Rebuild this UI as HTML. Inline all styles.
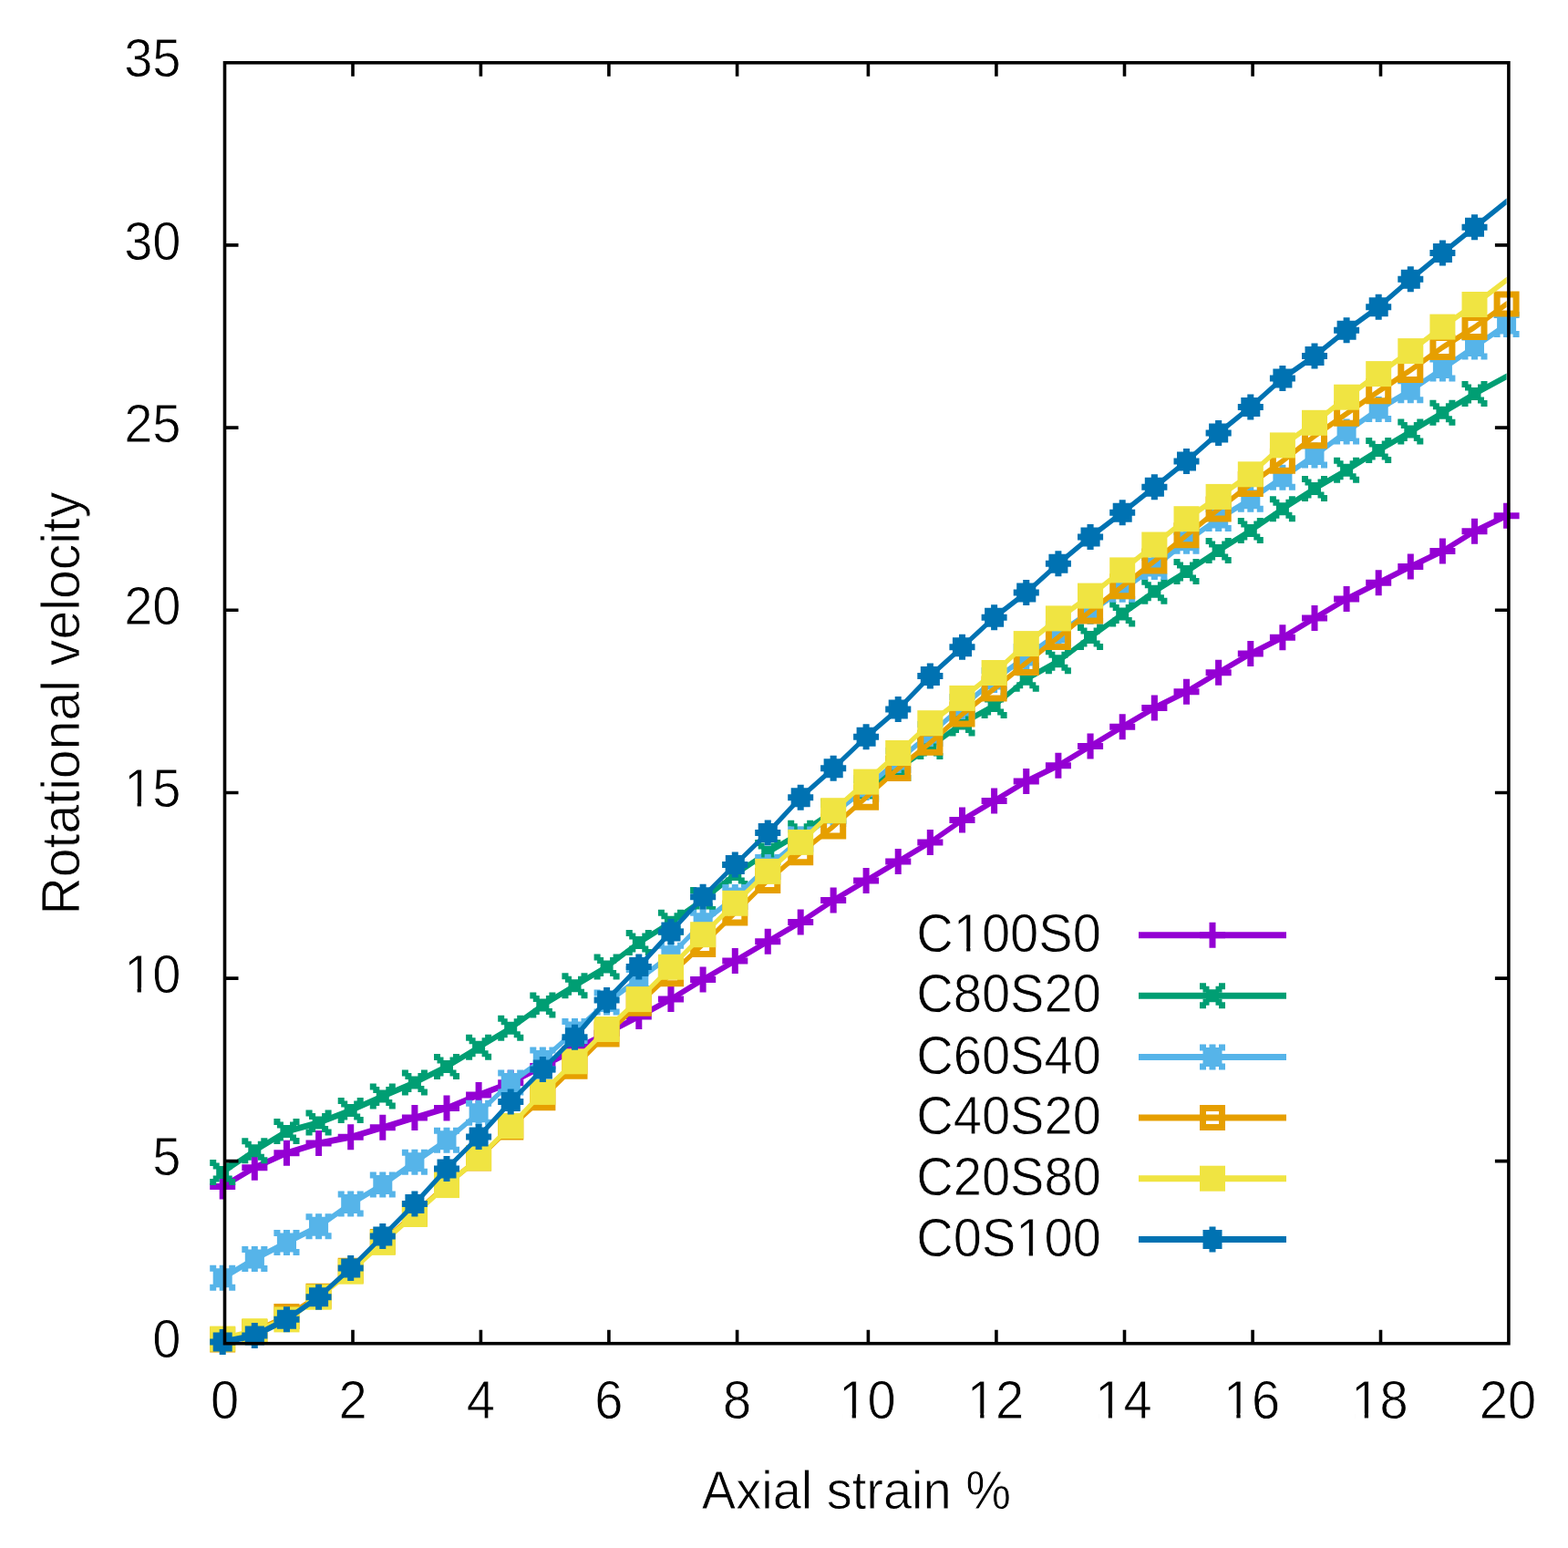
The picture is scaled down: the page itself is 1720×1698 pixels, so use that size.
<!DOCTYPE html><html><head><meta charset="utf-8"><title>Rotational velocity vs axial strain</title>
<style>html,body{margin:0;padding:0;background:#fff;}svg{display:block;}text{font-family:"Liberation Sans",Arial,sans-serif;fill:#000;stroke:#fff;stroke-width:0.8px;}</style></head><body>
<svg width="1720" height="1698" viewBox="0 0 1720 1698">
<rect width="1720" height="1698" fill="#fff"/>
<defs><clipPath id="pc"><rect x="246.5" y="68.8" width="1408.4" height="1404.9"/></clipPath></defs>
<g><path clip-path="url(#pc)" d="M244.2,1298.0L279.3,1277.2L279.3,1284.2L244.2,1305.0zM279.3,1277.2L314.4,1261.3L314.4,1268.3L279.3,1284.2zM314.4,1261.3L349.6,1250.6L349.6,1257.6L314.4,1268.3zM349.6,1250.6L384.7,1243.8L384.7,1250.8L349.6,1257.6zM384.7,1243.8L419.8,1233.2L419.8,1240.2L384.7,1250.8zM419.8,1233.2L454.9,1222.6L454.9,1229.6L419.8,1240.2zM454.9,1222.6L490.0,1212.0L490.0,1219.0L454.9,1229.6zM490.0,1212.0L525.1,1197.6L525.1,1204.6L490.0,1219.0zM525.1,1197.6L560.2,1184.2L560.2,1191.2L525.1,1204.6zM560.2,1184.2L595.4,1166.0L595.4,1173.0L560.2,1191.2zM595.4,1166.0L630.5,1147.8L630.5,1154.8L595.4,1173.0zM630.5,1147.8L665.6,1129.7L665.6,1136.7L630.5,1154.8zM665.6,1129.7L700.8,1111.5L700.8,1118.5L665.6,1136.7zM700.8,1111.5L736.0,1092.4L736.0,1099.4L700.8,1118.5zM736.0,1092.4L771.1,1071.0L771.1,1078.0L736.0,1099.4zM771.1,1071.0L806.3,1050.4L806.3,1057.4L771.1,1078.0zM806.3,1050.4L842.2,1029.2L842.2,1036.2L806.3,1057.4zM842.2,1029.2L878.2,1008.0L878.2,1015.0L842.2,1036.2zM878.2,1008.0L914.2,984.1L914.2,991.1L878.2,1015.0zM914.2,984.1L950.1,962.5L950.1,969.5L914.2,991.1zM950.1,962.5L985.2,941.5L985.2,948.5L950.1,969.5zM985.2,941.5L1020.4,920.4L1020.4,927.4L985.2,948.5zM1020.4,920.4L1055.5,896.1L1055.5,903.1L1020.4,927.4zM1055.5,896.1L1090.6,875.0L1090.6,882.0L1055.5,903.1zM1090.6,875.0L1125.8,853.5L1125.8,860.5L1090.6,882.0zM1125.8,853.5L1160.9,836.2L1160.9,843.2L1125.8,860.5zM1160.9,836.2L1196.0,815.0L1196.0,822.0L1160.9,843.2zM1196.0,815.0L1231.2,793.8L1231.2,800.8L1196.0,822.0zM1231.2,793.8L1266.4,772.9L1266.4,779.9L1231.2,800.8zM1266.4,772.9L1301.5,755.3L1301.5,762.3L1266.4,779.9zM1301.5,755.3L1336.6,734.3L1336.6,741.3L1301.5,762.3zM1336.6,734.3L1371.8,713.5L1371.8,720.5L1336.6,741.3zM1371.8,713.5L1406.9,695.8L1406.9,702.8L1371.8,720.5zM1406.9,695.8L1442.0,674.6L1442.0,681.6L1406.9,702.8zM1442.0,674.6L1477.1,653.4L1477.1,660.4L1442.0,681.6zM1477.1,653.4L1512.2,635.7L1512.2,642.7L1477.1,660.4zM1512.2,635.7L1547.3,618.1L1547.3,625.1L1512.2,642.7zM1547.3,618.1L1582.4,601.0L1582.4,608.0L1547.3,625.1zM1582.4,601.0L1617.5,579.2L1617.5,586.2L1582.4,608.0zM1617.5,579.2L1652.6,562.2L1652.6,569.2L1617.5,586.2z" fill="#9400d3"/>
<path d="M240.7,1287.5H247.7V1298.0H240.7zM230.2,1298.0H258.2V1305.0H230.2zM240.7,1305.0H247.7V1315.5H240.7z" fill="#9400d3"/>
<path d="M275.8,1266.7H282.8V1277.2H275.8zM265.3,1277.2H293.4V1284.2H265.3zM275.8,1284.2H282.8V1294.7H275.8z" fill="#9400d3"/>
<path d="M310.9,1250.8H318.0V1261.3H310.9zM300.4,1261.3H328.5V1268.3H300.4zM310.9,1268.3H318.0V1278.8H310.9z" fill="#9400d3"/>
<path d="M346.1,1240.1H353.1V1250.6H346.1zM335.5,1250.6H363.6V1257.6H335.5zM346.1,1257.6H353.1V1268.1H346.1z" fill="#9400d3"/>
<path d="M381.2,1233.3H388.2V1243.8H381.2zM370.7,1243.8H398.7V1250.8H370.7zM381.2,1250.8H388.2V1261.3H381.2z" fill="#9400d3"/>
<path d="M416.3,1222.7H423.3V1233.2H416.3zM405.8,1233.2H433.8V1240.2H405.8zM416.3,1240.2H423.3V1250.7H416.3z" fill="#9400d3"/>
<path d="M451.4,1212.1H458.4V1222.6H451.4zM440.9,1222.6H468.9V1229.6H440.9zM451.4,1229.6H458.4V1240.1H451.4z" fill="#9400d3"/>
<path d="M486.5,1201.5H493.5V1212.0H486.5zM476.0,1212.0H504.0V1219.0H476.0zM486.5,1219.0H493.5V1229.5H486.5z" fill="#9400d3"/>
<path d="M521.6,1187.1H528.6V1197.6H521.6zM511.1,1197.6H539.1V1204.6H511.1zM521.6,1204.6H528.6V1215.1H521.6z" fill="#9400d3"/>
<path d="M556.7,1173.7H563.7V1184.2H556.7zM546.2,1184.2H574.3V1191.2H546.2zM556.7,1191.2H563.7V1201.7H556.7z" fill="#9400d3"/>
<path d="M591.8,1155.5H598.9V1166.0H591.8zM581.3,1166.0H609.4V1173.0H581.3zM591.8,1173.0H598.9V1183.6H591.8z" fill="#9400d3"/>
<path d="M627.0,1137.3H634.0V1147.8H627.0zM616.4,1147.8H644.5V1154.9H616.4zM627.0,1154.9H634.0V1165.4H627.0z" fill="#9400d3"/>
<path d="M662.1,1119.1H669.1V1129.7H662.1zM651.6,1129.7H679.6V1136.7H651.6zM662.1,1136.7H669.1V1147.2H662.1z" fill="#9400d3"/>
<path d="M697.3,1101.0H704.3V1111.5H697.3zM686.7,1111.5H714.8V1118.5H686.7zM697.3,1118.5H704.3V1129.0H697.3z" fill="#9400d3"/>
<path d="M732.4,1081.9H739.5V1092.4H732.4zM721.9,1092.4H750.0V1099.4H721.9zM732.4,1099.4H739.5V1109.9H732.4z" fill="#9400d3"/>
<path d="M767.6,1060.5H774.6V1071.0H767.6zM757.1,1071.0H785.2V1078.0H757.1zM767.6,1078.0H774.6V1088.5H767.6z" fill="#9400d3"/>
<path d="M802.8,1039.9H809.8V1050.4H802.8zM792.3,1050.4H820.3V1057.4H792.3zM802.8,1057.4H809.8V1067.9H802.8z" fill="#9400d3"/>
<path d="M838.7,1018.7H845.8V1029.2H838.7zM828.2,1029.2H856.3V1036.2H828.2zM838.7,1036.2H845.8V1046.7H838.7z" fill="#9400d3"/>
<path d="M874.7,997.5H881.7V1008.0H874.7zM864.2,1008.0H892.2V1015.0H864.2zM874.7,1015.0H881.7V1025.5H874.7z" fill="#9400d3"/>
<path d="M910.6,973.6H917.7V984.1H910.6zM900.1,984.1H928.2V991.1H900.1zM910.6,991.1H917.7V1001.6H910.6z" fill="#9400d3"/>
<path d="M946.6,952.0H953.6V962.5H946.6zM936.1,962.5H964.1V969.5H936.1zM946.6,969.5H953.6V980.0H946.6z" fill="#9400d3"/>
<path d="M981.7,931.0H988.7V941.5H981.7zM971.2,941.5H999.3V948.5H971.2zM981.7,948.5H988.7V959.0H981.7z" fill="#9400d3"/>
<path d="M1016.8,909.9H1023.9V920.4H1016.8zM1006.3,920.4H1034.4V927.4H1006.3zM1016.8,927.4H1023.9V937.9H1016.8z" fill="#9400d3"/>
<path d="M1052.0,885.6H1059.0V896.1H1052.0zM1041.4,896.1H1069.5V903.1H1041.4zM1052.0,903.1H1059.0V913.6H1052.0z" fill="#9400d3"/>
<path d="M1087.1,864.5H1094.1V875.0H1087.1zM1076.6,875.0H1104.6V882.0H1076.6zM1087.1,882.0H1094.1V892.5H1087.1z" fill="#9400d3"/>
<path d="M1122.2,843.0H1129.3V853.5H1122.2zM1111.7,853.5H1139.8V860.5H1111.7zM1122.2,860.5H1129.3V871.0H1122.2z" fill="#9400d3"/>
<path d="M1157.4,825.7H1164.4V836.2H1157.4zM1146.9,836.2H1174.9V843.2H1146.9zM1157.4,843.2H1164.4V853.7H1157.4z" fill="#9400d3"/>
<path d="M1192.5,804.5H1199.6V815.0H1192.5zM1182.0,815.0H1210.1V822.0H1182.0zM1192.5,822.0H1199.6V832.5H1192.5z" fill="#9400d3"/>
<path d="M1227.7,783.3H1234.7V793.8H1227.7zM1217.2,793.8H1245.2V800.8H1217.2zM1227.7,800.8H1234.7V811.3H1227.7z" fill="#9400d3"/>
<path d="M1262.8,762.4H1269.9V772.9H1262.8zM1252.3,772.9H1280.4V779.9H1252.3zM1262.8,779.9H1269.9V790.4H1262.8z" fill="#9400d3"/>
<path d="M1298.0,744.8H1305.0V755.3H1298.0zM1287.5,755.3H1315.5V762.3H1287.5zM1298.0,762.3H1305.0V772.8H1298.0z" fill="#9400d3"/>
<path d="M1333.1,723.8H1340.2V734.3H1333.1zM1322.6,734.3H1350.7V741.3H1322.6zM1333.1,741.3H1340.2V751.8H1333.1z" fill="#9400d3"/>
<path d="M1368.3,703.0H1375.3V713.5H1368.3zM1357.8,713.5H1385.8V720.5H1357.8zM1368.3,720.5H1375.3V731.0H1368.3z" fill="#9400d3"/>
<path d="M1403.4,685.3H1410.4V695.8H1403.4zM1392.9,695.8H1420.9V702.8H1392.9zM1403.4,702.8H1410.4V713.3H1403.4z" fill="#9400d3"/>
<path d="M1438.5,664.1H1445.5V674.6H1438.5zM1428.0,674.6H1456.0V681.6H1428.0zM1438.5,681.6H1445.5V692.1H1438.5z" fill="#9400d3"/>
<path d="M1473.6,642.9H1480.6V653.4H1473.6zM1463.1,653.4H1491.1V660.4H1463.1zM1473.6,660.4H1480.6V670.9H1473.6z" fill="#9400d3"/>
<path d="M1508.7,625.2H1515.7V635.7H1508.7zM1498.2,635.7H1526.2V642.7H1498.2zM1508.7,642.7H1515.7V653.2H1508.7z" fill="#9400d3"/>
<path d="M1543.8,607.6H1550.8V618.1H1543.8zM1533.3,618.1H1561.3V625.1H1533.3zM1543.8,625.1H1550.8V635.6H1543.8z" fill="#9400d3"/>
<path d="M1578.9,590.5H1585.9V601.0H1578.9zM1568.4,601.0H1596.4V608.0H1568.4zM1578.9,608.0H1585.9V618.5H1578.9z" fill="#9400d3"/>
<path d="M1614.0,568.7H1621.0V579.2H1614.0zM1603.5,579.2H1631.5V586.2H1603.5zM1614.0,586.2H1621.0V596.7H1614.0z" fill="#9400d3"/>
<path d="M1649.1,551.7H1656.1V562.2H1649.1zM1638.6,562.2H1666.6V569.2H1638.6zM1649.1,569.2H1656.1V579.7H1649.1z" fill="#9400d3"/>
</g>
<g><path clip-path="url(#pc)" d="M244.2,1282.5L279.3,1258.7L279.3,1265.7L244.2,1289.5zM279.3,1258.7L314.4,1237.5L314.4,1244.5L279.3,1265.7zM314.4,1237.5L349.6,1227.9L349.6,1234.9L314.4,1244.5zM349.6,1227.9L384.7,1214.5L384.7,1221.5L349.6,1234.9zM384.7,1214.5L419.8,1199.0L419.8,1206.0L384.7,1221.5zM419.8,1199.0L454.9,1184.1L454.9,1191.1L419.8,1206.0zM454.9,1184.1L490.0,1166.5L490.0,1173.5L454.9,1191.1zM490.0,1166.5L525.1,1145.3L525.1,1152.3L490.0,1173.5zM525.1,1145.3L560.2,1124.2L560.2,1131.2L525.1,1152.3zM560.2,1124.2L595.4,1099.0L595.4,1106.0L560.2,1131.2zM595.4,1099.0L630.5,1077.8L630.5,1084.8L595.4,1106.0zM630.5,1077.8L665.6,1056.9L665.6,1063.9L630.5,1084.8zM665.6,1056.9L700.8,1030.5L700.8,1037.5L665.6,1063.9zM700.8,1030.5L736.0,1008.3L736.0,1015.3L700.8,1037.5zM736.0,1008.3L771.1,983.6L771.1,990.6L736.0,1015.3zM771.1,983.6L806.3,955.5L806.3,962.5L771.1,990.6zM806.3,955.5L842.2,931.5L842.2,938.5L806.3,962.5zM842.2,931.5L878.2,910.3L878.2,917.3L842.2,938.5zM878.2,910.3L914.2,886.5L914.2,893.5L878.2,917.3zM914.2,886.5L950.1,862.5L950.1,869.5L914.2,893.5zM950.1,862.5L985.2,839.5L985.2,846.5L950.1,869.5zM985.2,839.5L1020.4,815.6L1020.4,822.6L985.2,846.5zM1020.4,815.6L1055.5,790.1L1055.5,797.1L1020.4,822.6zM1055.5,790.1L1090.6,770.5L1090.6,777.5L1055.5,797.1zM1090.6,770.5L1125.8,741.3L1125.8,748.3L1090.6,777.5zM1125.8,741.3L1160.9,721.7L1160.9,728.7L1125.8,748.3zM1160.9,721.7L1196.0,695.5L1196.0,702.5L1160.9,728.7zM1196.0,695.5L1231.2,669.9L1231.2,676.9L1196.0,702.5zM1231.2,669.9L1266.4,645.2L1266.4,652.2L1231.2,676.9zM1266.4,645.2L1301.5,623.5L1301.5,630.5L1266.4,652.2zM1301.5,623.5L1336.6,600.5L1336.6,607.5L1301.5,630.5zM1336.6,600.5L1371.8,578.5L1371.8,585.5L1336.6,607.5zM1371.8,578.5L1406.9,554.8L1406.9,561.8L1371.8,585.5zM1406.9,554.8L1442.0,532.5L1442.0,539.5L1406.9,561.8zM1442.0,532.5L1477.1,512.3L1477.1,519.3L1442.0,539.5zM1477.1,512.3L1512.2,490.6L1512.2,497.6L1477.1,519.3zM1512.2,490.6L1547.3,469.9L1547.3,476.9L1512.2,497.6zM1547.3,469.9L1582.4,449.2L1582.4,456.2L1547.3,476.9zM1582.4,449.2L1617.5,428.4L1617.5,435.4L1582.4,456.2zM1617.5,428.4L1652.6,409.6L1652.6,416.6L1617.5,435.4z" fill="#009e73"/>
<path d="M230.2,1272.0H237.2V1275.5H230.2zM251.2,1272.0H258.2V1275.5H251.2zM230.2,1275.5H240.7V1279.0H230.2zM247.7,1275.5H258.2V1279.0H247.7zM233.7,1279.0H254.7V1282.5H233.7zM237.2,1282.5H251.2V1289.5H237.2zM233.7,1289.5H254.7V1293.0H233.7zM230.2,1293.0H240.7V1296.5H230.2zM247.7,1293.0H258.2V1296.5H247.7zM230.2,1296.5H237.2V1300.0H230.2zM251.2,1296.5H258.2V1300.0H251.2z" fill="#009e73"/>
<path d="M265.3,1248.2H272.3V1251.7H265.3zM286.3,1248.2H293.4V1251.7H286.3zM265.3,1251.7H275.8V1255.2H265.3zM282.8,1251.7H293.4V1255.2H282.8zM268.8,1255.2H289.9V1258.7H268.8zM272.3,1258.7H286.3V1265.7H272.3zM268.8,1265.7H289.9V1269.2H268.8zM265.3,1269.2H275.8V1272.7H265.3zM282.8,1269.2H293.4V1272.7H282.8zM265.3,1272.7H272.3V1276.2H265.3zM286.3,1272.7H293.4V1276.2H286.3z" fill="#009e73"/>
<path d="M300.4,1227.0H307.4V1230.5H300.4zM321.5,1227.0H328.5V1230.5H321.5zM300.4,1230.5H310.9V1234.0H300.4zM318.0,1230.5H328.5V1234.0H318.0zM303.9,1234.0H325.0V1237.5H303.9zM307.4,1237.5H321.5V1244.5H307.4zM303.9,1244.5H325.0V1248.0H303.9zM300.4,1248.0H310.9V1251.5H300.4zM318.0,1248.0H328.5V1251.5H318.0zM300.4,1251.5H307.4V1255.0H300.4zM321.5,1251.5H328.5V1255.0H321.5z" fill="#009e73"/>
<path d="M335.5,1217.4H342.6V1220.9H335.5zM356.6,1217.4H363.6V1220.9H356.6zM335.5,1220.9H346.1V1224.4H335.5zM353.1,1220.9H363.6V1224.4H353.1zM339.0,1224.4H360.1V1227.9H339.0zM342.6,1227.9H356.6V1234.9H342.6zM339.0,1234.9H360.1V1238.4H339.0zM335.5,1238.4H346.1V1241.9H335.5zM353.1,1238.4H363.6V1241.9H353.1zM335.5,1241.9H342.6V1245.4H335.5zM356.6,1241.9H363.6V1245.4H356.6z" fill="#009e73"/>
<path d="M370.7,1204.0H377.7V1207.5H370.7zM391.7,1204.0H398.7V1207.5H391.7zM370.7,1207.5H381.2V1211.0H370.7zM388.2,1207.5H398.7V1211.0H388.2zM374.2,1211.0H395.2V1214.5H374.2zM377.7,1214.5H391.7V1221.5H377.7zM374.2,1221.5H395.2V1225.0H374.2zM370.7,1225.0H381.2V1228.5H370.7zM388.2,1225.0H398.7V1228.5H388.2zM370.7,1228.5H377.7V1232.0H370.7zM391.7,1228.5H398.7V1232.0H391.7z" fill="#009e73"/>
<path d="M405.8,1188.5H412.8V1192.0H405.8zM426.8,1188.5H433.8V1192.0H426.8zM405.8,1192.0H416.3V1195.5H405.8zM423.3,1192.0H433.8V1195.5H423.3zM409.3,1195.5H430.3V1199.0H409.3zM412.8,1199.0H426.8V1206.0H412.8zM409.3,1206.0H430.3V1209.5H409.3zM405.8,1209.5H416.3V1213.0H405.8zM423.3,1209.5H433.8V1213.0H423.3zM405.8,1213.0H412.8V1216.5H405.8zM426.8,1213.0H433.8V1216.5H426.8z" fill="#009e73"/>
<path d="M440.9,1173.6H447.9V1177.1H440.9zM461.9,1173.6H468.9V1177.1H461.9zM440.9,1177.1H451.4V1180.6H440.9zM458.4,1177.1H468.9V1180.6H458.4zM444.4,1180.6H465.4V1184.1H444.4zM447.9,1184.1H461.9V1191.1H447.9zM444.4,1191.1H465.4V1194.6H444.4zM440.9,1194.6H451.4V1198.1H440.9zM458.4,1194.6H468.9V1198.1H458.4zM440.9,1198.1H447.9V1201.6H440.9zM461.9,1198.1H468.9V1201.6H461.9z" fill="#009e73"/>
<path d="M476.0,1156.0H483.0V1159.5H476.0zM497.0,1156.0H504.0V1159.5H497.0zM476.0,1159.5H486.5V1163.0H476.0zM493.5,1159.5H504.0V1163.0H493.5zM479.5,1163.0H500.5V1166.5H479.5zM483.0,1166.5H497.0V1173.5H483.0zM479.5,1173.5H500.5V1177.0H479.5zM476.0,1177.0H486.5V1180.5H476.0zM493.5,1177.0H504.0V1180.5H493.5zM476.0,1180.5H483.0V1184.0H476.0zM497.0,1180.5H504.0V1184.0H497.0z" fill="#009e73"/>
<path d="M511.1,1134.8H518.1V1138.3H511.1zM532.1,1134.8H539.1V1138.3H532.1zM511.1,1138.3H521.6V1141.8H511.1zM528.6,1138.3H539.1V1141.8H528.6zM514.6,1141.8H535.6V1145.3H514.6zM518.1,1145.3H532.1V1152.3H518.1zM514.6,1152.3H535.6V1155.8H514.6zM511.1,1155.8H521.6V1159.3H511.1zM528.6,1155.8H539.1V1159.3H528.6zM511.1,1159.3H518.1V1162.8H511.1zM532.1,1159.3H539.1V1162.8H532.1z" fill="#009e73"/>
<path d="M546.2,1113.7H553.2V1117.2H546.2zM567.2,1113.7H574.3V1117.2H567.2zM546.2,1117.2H556.7V1120.7H546.2zM563.7,1117.2H574.3V1120.7H563.7zM549.7,1120.7H570.8V1124.2H549.7zM553.2,1124.2H567.2V1131.2H553.2zM549.7,1131.2H570.8V1134.7H549.7zM546.2,1134.7H556.7V1138.2H546.2zM563.7,1134.7H574.3V1138.2H563.7zM546.2,1138.2H553.2V1141.7H546.2zM567.2,1138.2H574.3V1141.7H567.2z" fill="#009e73"/>
<path d="M581.3,1088.5H588.3V1092.0H581.3zM602.4,1088.5H609.4V1092.0H602.4zM581.3,1092.0H591.8V1095.5H581.3zM598.9,1092.0H609.4V1095.5H598.9zM584.8,1095.5H605.9V1099.0H584.8zM588.3,1099.0H602.4V1106.0H588.3zM584.8,1106.0H605.9V1109.5H584.8zM581.3,1109.5H591.8V1113.0H581.3zM598.9,1109.5H609.4V1113.0H598.9zM581.3,1113.0H588.3V1116.5H581.3zM602.4,1113.0H609.4V1116.5H602.4z" fill="#009e73"/>
<path d="M616.4,1067.3H623.5V1070.8H616.4zM637.5,1067.3H644.5V1070.8H637.5zM616.4,1070.8H627.0V1074.3H616.4zM634.0,1070.8H644.5V1074.3H634.0zM619.9,1074.3H641.0V1077.8H619.9zM623.5,1077.8H637.5V1084.8H623.5zM619.9,1084.8H641.0V1088.3H619.9zM616.4,1088.3H627.0V1091.8H616.4zM634.0,1088.3H644.5V1091.8H634.0zM616.4,1091.8H623.5V1095.3H616.4zM637.5,1091.8H644.5V1095.3H637.5z" fill="#009e73"/>
<path d="M651.6,1046.4H658.6V1049.9H651.6zM672.6,1046.4H679.6V1049.9H672.6zM651.6,1049.9H662.1V1053.4H651.6zM669.1,1049.9H679.6V1053.4H669.1zM655.1,1053.4H676.1V1056.9H655.1zM658.6,1056.9H672.6V1063.9H658.6zM655.1,1063.9H676.1V1067.4H655.1zM651.6,1067.4H662.1V1070.9H651.6zM669.1,1067.4H679.6V1070.9H669.1zM651.6,1070.9H658.6V1074.4H651.6zM672.6,1070.9H679.6V1074.4H672.6z" fill="#009e73"/>
<path d="M686.7,1020.0H693.8V1023.5H686.7zM707.8,1020.0H714.8V1023.5H707.8zM686.7,1023.5H697.3V1027.0H686.7zM704.3,1023.5H714.8V1027.0H704.3zM690.2,1027.0H711.3V1030.5H690.2zM693.8,1030.5H707.8V1037.5H693.8zM690.2,1037.5H711.3V1041.0H690.2zM686.7,1041.0H697.3V1044.5H686.7zM704.3,1041.0H714.8V1044.5H704.3zM686.7,1044.5H693.8V1048.0H686.7zM707.8,1044.5H714.8V1048.0H707.8z" fill="#009e73"/>
<path d="M721.9,997.8H728.9V1001.3H721.9zM743.0,997.8H750.0V1001.3H743.0zM721.9,1001.3H732.4V1004.8H721.9zM739.5,1001.3H750.0V1004.8H739.5zM725.4,1004.8H746.5V1008.3H725.4zM728.9,1008.3H743.0V1015.3H728.9zM725.4,1015.3H746.5V1018.8H725.4zM721.9,1018.8H732.4V1022.3H721.9zM739.5,1018.8H750.0V1022.3H739.5zM721.9,1022.3H728.9V1025.8H721.9zM743.0,1022.3H750.0V1025.8H743.0z" fill="#009e73"/>
<path d="M757.1,973.1H764.1V976.6H757.1zM778.1,973.1H785.2V976.6H778.1zM757.1,976.6H767.6V980.1H757.1zM774.6,976.6H785.2V980.1H774.6zM760.6,980.1H781.7V983.6H760.6zM764.1,983.6H778.1V990.6H764.1zM760.6,990.6H781.7V994.1H760.6zM757.1,994.1H767.6V997.6H757.1zM774.6,994.1H785.2V997.6H774.6zM757.1,997.6H764.1V1001.1H757.1zM778.1,997.6H785.2V1001.1H778.1z" fill="#009e73"/>
<path d="M792.3,945.0H799.3V948.5H792.3zM813.3,945.0H820.3V948.5H813.3zM792.3,948.5H802.8V952.0H792.3zM809.8,948.5H820.3V952.0H809.8zM795.8,952.0H816.8V955.5H795.8zM799.3,955.5H813.3V962.5H799.3zM795.8,962.5H816.8V966.0H795.8zM792.3,966.0H802.8V969.5H792.3zM809.8,966.0H820.3V969.5H809.8zM792.3,969.5H799.3V973.0H792.3zM813.3,969.5H820.3V973.0H813.3z" fill="#009e73"/>
<path d="M828.2,921.0H835.2V924.5H828.2zM849.3,921.0H856.3V924.5H849.3zM828.2,924.5H838.7V928.0H828.2zM845.8,924.5H856.3V928.0H845.8zM831.7,928.0H852.8V931.5H831.7zM835.2,931.5H849.3V938.5H835.2zM831.7,938.5H852.8V942.0H831.7zM828.2,942.0H838.7V945.5H828.2zM845.8,942.0H856.3V945.5H845.8zM828.2,945.5H835.2V949.0H828.2zM849.3,945.5H856.3V949.0H849.3z" fill="#009e73"/>
<path d="M864.2,899.8H871.2V903.3H864.2zM885.2,899.8H892.2V903.3H885.2zM864.2,903.3H874.7V906.8H864.2zM881.7,903.3H892.2V906.8H881.7zM867.7,906.8H888.7V910.3H867.7zM871.2,910.3H885.2V917.3H871.2zM867.7,917.3H888.7V920.8H867.7zM864.2,920.8H874.7V924.3H864.2zM881.7,920.8H892.2V924.3H881.7zM864.2,924.3H871.2V927.8H864.2zM885.2,924.3H892.2V927.8H885.2z" fill="#009e73"/>
<path d="M900.1,876.0H907.1V879.5H900.1zM921.2,876.0H928.2V879.5H921.2zM900.1,879.5H910.6V883.0H900.1zM917.7,879.5H928.2V883.0H917.7zM903.6,883.0H924.7V886.5H903.6zM907.1,886.5H921.2V893.5H907.1zM903.6,893.5H924.7V897.0H903.6zM900.1,897.0H910.6V900.5H900.1zM917.7,897.0H928.2V900.5H917.7zM900.1,900.5H907.1V904.0H900.1zM921.2,900.5H928.2V904.0H921.2z" fill="#009e73"/>
<path d="M936.1,852.0H943.1V855.5H936.1zM957.1,852.0H964.1V855.5H957.1zM936.1,855.5H946.6V859.0H936.1zM953.6,855.5H964.1V859.0H953.6zM939.6,859.0H960.6V862.5H939.6zM943.1,862.5H957.1V869.5H943.1zM939.6,869.5H960.6V873.0H939.6zM936.1,873.0H946.6V876.5H936.1zM953.6,873.0H964.1V876.5H953.6zM936.1,876.5H943.1V880.0H936.1zM957.1,876.5H964.1V880.0H957.1z" fill="#009e73"/>
<path d="M971.2,829.0H978.2V832.5H971.2zM992.2,829.0H999.3V832.5H992.2zM971.2,832.5H981.7V836.0H971.2zM988.7,832.5H999.3V836.0H988.7zM974.7,836.0H995.8V839.5H974.7zM978.2,839.5H992.2V846.5H978.2zM974.7,846.5H995.8V850.0H974.7zM971.2,850.0H981.7V853.5H971.2zM988.7,850.0H999.3V853.5H988.7zM971.2,853.5H978.2V857.0H971.2zM992.2,853.5H999.3V857.0H992.2z" fill="#009e73"/>
<path d="M1006.3,805.1H1013.3V808.6H1006.3zM1027.4,805.1H1034.4V808.6H1027.4zM1006.3,808.6H1016.8V812.1H1006.3zM1023.9,808.6H1034.4V812.1H1023.9zM1009.8,812.1H1030.9V815.6H1009.8zM1013.3,815.6H1027.4V822.6H1013.3zM1009.8,822.6H1030.9V826.1H1009.8zM1006.3,826.1H1016.8V829.6H1006.3zM1023.9,826.1H1034.4V829.6H1023.9zM1006.3,829.6H1013.3V833.1H1006.3zM1027.4,829.6H1034.4V833.1H1027.4z" fill="#009e73"/>
<path d="M1041.4,779.6H1048.5V783.1H1041.4zM1062.5,779.6H1069.5V783.1H1062.5zM1041.4,783.1H1052.0V786.6H1041.4zM1059.0,783.1H1069.5V786.6H1059.0zM1044.9,786.6H1066.0V790.1H1044.9zM1048.5,790.1H1062.5V797.1H1048.5zM1044.9,797.1H1066.0V800.6H1044.9zM1041.4,800.6H1052.0V804.1H1041.4zM1059.0,800.6H1069.5V804.1H1059.0zM1041.4,804.1H1048.5V807.6H1041.4zM1062.5,804.1H1069.5V807.6H1062.5z" fill="#009e73"/>
<path d="M1076.6,760.0H1083.6V763.5H1076.6zM1097.6,760.0H1104.6V763.5H1097.6zM1076.6,763.5H1087.1V767.0H1076.6zM1094.1,763.5H1104.6V767.0H1094.1zM1080.1,767.0H1101.1V770.5H1080.1zM1083.6,770.5H1097.6V777.5H1083.6zM1080.1,777.5H1101.1V781.0H1080.1zM1076.6,781.0H1087.1V784.5H1076.6zM1094.1,781.0H1104.6V784.5H1094.1zM1076.6,784.5H1083.6V788.0H1076.6zM1097.6,784.5H1104.6V788.0H1097.6z" fill="#009e73"/>
<path d="M1111.7,730.8H1118.7V734.3H1111.7zM1132.8,730.8H1139.8V734.3H1132.8zM1111.7,734.3H1122.2V737.8H1111.7zM1129.3,734.3H1139.8V737.8H1129.3zM1115.2,737.8H1136.3V741.3H1115.2zM1118.7,741.3H1132.8V748.3H1118.7zM1115.2,748.3H1136.3V751.8H1115.2zM1111.7,751.8H1122.2V755.3H1111.7zM1129.3,751.8H1139.8V755.3H1129.3zM1111.7,755.3H1118.7V758.8H1111.7zM1132.8,755.3H1139.8V758.8H1132.8z" fill="#009e73"/>
<path d="M1146.9,711.2H1153.9V714.7H1146.9zM1167.9,711.2H1174.9V714.7H1167.9zM1146.9,714.7H1157.4V718.2H1146.9zM1164.4,714.7H1174.9V718.2H1164.4zM1150.4,718.2H1171.4V721.7H1150.4zM1153.9,721.7H1167.9V728.7H1153.9zM1150.4,728.7H1171.4V732.2H1150.4zM1146.9,732.2H1157.4V735.7H1146.9zM1164.4,732.2H1174.9V735.7H1164.4zM1146.9,735.7H1153.9V739.2H1146.9zM1167.9,735.7H1174.9V739.2H1167.9z" fill="#009e73"/>
<path d="M1182.0,685.0H1189.0V688.5H1182.0zM1203.1,685.0H1210.1V688.5H1203.1zM1182.0,688.5H1192.5V692.0H1182.0zM1199.6,688.5H1210.1V692.0H1199.6zM1185.5,692.0H1206.6V695.5H1185.5zM1189.0,695.5H1203.1V702.5H1189.0zM1185.5,702.5H1206.6V706.0H1185.5zM1182.0,706.0H1192.5V709.5H1182.0zM1199.6,706.0H1210.1V709.5H1199.6zM1182.0,709.5H1189.0V713.0H1182.0zM1203.1,709.5H1210.1V713.0H1203.1z" fill="#009e73"/>
<path d="M1217.2,659.4H1224.2V662.9H1217.2zM1238.2,659.4H1245.2V662.9H1238.2zM1217.2,662.9H1227.7V666.4H1217.2zM1234.7,662.9H1245.2V666.4H1234.7zM1220.7,666.4H1241.7V669.9H1220.7zM1224.2,669.9H1238.2V676.9H1224.2zM1220.7,676.9H1241.7V680.4H1220.7zM1217.2,680.4H1227.7V683.9H1217.2zM1234.7,680.4H1245.2V683.9H1234.7zM1217.2,683.9H1224.2V687.4H1217.2zM1238.2,683.9H1245.2V687.4H1238.2z" fill="#009e73"/>
<path d="M1252.3,634.7H1259.3V638.2H1252.3zM1273.4,634.7H1280.4V638.2H1273.4zM1252.3,638.2H1262.8V641.7H1252.3zM1269.9,638.2H1280.4V641.7H1269.9zM1255.8,641.7H1276.9V645.2H1255.8zM1259.3,645.2H1273.4V652.2H1259.3zM1255.8,652.2H1276.9V655.7H1255.8zM1252.3,655.7H1262.8V659.2H1252.3zM1269.9,655.7H1280.4V659.2H1269.9zM1252.3,659.2H1259.3V662.7H1252.3zM1273.4,659.2H1280.4V662.7H1273.4z" fill="#009e73"/>
<path d="M1287.5,613.0H1294.5V616.5H1287.5zM1308.5,613.0H1315.5V616.5H1308.5zM1287.5,616.5H1298.0V620.0H1287.5zM1305.0,616.5H1315.5V620.0H1305.0zM1291.0,620.0H1312.0V623.5H1291.0zM1294.5,623.5H1308.5V630.5H1294.5zM1291.0,630.5H1312.0V634.0H1291.0zM1287.5,634.0H1298.0V637.5H1287.5zM1305.0,634.0H1315.5V637.5H1305.0zM1287.5,637.5H1294.5V641.0H1287.5zM1308.5,637.5H1315.5V641.0H1308.5z" fill="#009e73"/>
<path d="M1322.6,590.0H1329.6V593.5H1322.6zM1343.7,590.0H1350.7V593.5H1343.7zM1322.6,593.5H1333.1V597.0H1322.6zM1340.2,593.5H1350.7V597.0H1340.2zM1326.1,597.0H1347.2V600.5H1326.1zM1329.6,600.5H1343.7V607.5H1329.6zM1326.1,607.5H1347.2V611.0H1326.1zM1322.6,611.0H1333.1V614.5H1322.6zM1340.2,611.0H1350.7V614.5H1340.2zM1322.6,614.5H1329.6V618.0H1322.6zM1343.7,614.5H1350.7V618.0H1343.7z" fill="#009e73"/>
<path d="M1357.8,568.0H1364.8V571.5H1357.8zM1378.8,568.0H1385.8V571.5H1378.8zM1357.8,571.5H1368.3V575.0H1357.8zM1375.3,571.5H1385.8V575.0H1375.3zM1361.3,575.0H1382.3V578.5H1361.3zM1364.8,578.5H1378.8V585.5H1364.8zM1361.3,585.5H1382.3V589.0H1361.3zM1357.8,589.0H1368.3V592.5H1357.8zM1375.3,589.0H1385.8V592.5H1375.3zM1357.8,592.5H1364.8V596.0H1357.8zM1378.8,592.5H1385.8V596.0H1378.8z" fill="#009e73"/>
<path d="M1392.9,544.3H1399.9V547.8H1392.9zM1413.9,544.3H1420.9V547.8H1413.9zM1392.9,547.8H1403.4V551.3H1392.9zM1410.4,547.8H1420.9V551.3H1410.4zM1396.4,551.3H1417.4V554.8H1396.4zM1399.9,554.8H1413.9V561.8H1399.9zM1396.4,561.8H1417.4V565.3H1396.4zM1392.9,565.3H1403.4V568.8H1392.9zM1410.4,565.3H1420.9V568.8H1410.4zM1392.9,568.8H1399.9V572.3H1392.9zM1413.9,568.8H1420.9V572.3H1413.9z" fill="#009e73"/>
<path d="M1428.0,522.0H1435.0V525.5H1428.0zM1449.0,522.0H1456.0V525.5H1449.0zM1428.0,525.5H1438.5V529.0H1428.0zM1445.5,525.5H1456.0V529.0H1445.5zM1431.5,529.0H1452.5V532.5H1431.5zM1435.0,532.5H1449.0V539.5H1435.0zM1431.5,539.5H1452.5V543.0H1431.5zM1428.0,543.0H1438.5V546.5H1428.0zM1445.5,543.0H1456.0V546.5H1445.5zM1428.0,546.5H1435.0V550.0H1428.0zM1449.0,546.5H1456.0V550.0H1449.0z" fill="#009e73"/>
<path d="M1463.1,501.8H1470.1V505.3H1463.1zM1484.1,501.8H1491.1V505.3H1484.1zM1463.1,505.3H1473.6V508.8H1463.1zM1480.6,505.3H1491.1V508.8H1480.6zM1466.6,508.8H1487.6V512.3H1466.6zM1470.1,512.3H1484.1V519.3H1470.1zM1466.6,519.3H1487.6V522.8H1466.6zM1463.1,522.8H1473.6V526.3H1463.1zM1480.6,522.8H1491.1V526.3H1480.6zM1463.1,526.3H1470.1V529.8H1463.1zM1484.1,526.3H1491.1V529.8H1484.1z" fill="#009e73"/>
<path d="M1498.2,480.1H1505.2V483.6H1498.2zM1519.2,480.1H1526.2V483.6H1519.2zM1498.2,483.6H1508.7V487.1H1498.2zM1515.7,483.6H1526.2V487.1H1515.7zM1501.7,487.1H1522.7V490.6H1501.7zM1505.2,490.6H1519.2V497.6H1505.2zM1501.7,497.6H1522.7V501.1H1501.7zM1498.2,501.1H1508.7V504.6H1498.2zM1515.7,501.1H1526.2V504.6H1515.7zM1498.2,504.6H1505.2V508.1H1498.2zM1519.2,504.6H1526.2V508.1H1519.2z" fill="#009e73"/>
<path d="M1533.3,459.4H1540.3V462.9H1533.3zM1554.3,459.4H1561.3V462.9H1554.3zM1533.3,462.9H1543.8V466.4H1533.3zM1550.8,462.9H1561.3V466.4H1550.8zM1536.8,466.4H1557.8V469.9H1536.8zM1540.3,469.9H1554.3V476.9H1540.3zM1536.8,476.9H1557.8V480.4H1536.8zM1533.3,480.4H1543.8V483.9H1533.3zM1550.8,480.4H1561.3V483.9H1550.8zM1533.3,483.9H1540.3V487.4H1533.3zM1554.3,483.9H1561.3V487.4H1554.3z" fill="#009e73"/>
<path d="M1568.4,438.7H1575.4V442.2H1568.4zM1589.4,438.7H1596.4V442.2H1589.4zM1568.4,442.2H1578.9V445.7H1568.4zM1585.9,442.2H1596.4V445.7H1585.9zM1571.9,445.7H1592.9V449.2H1571.9zM1575.4,449.2H1589.4V456.2H1575.4zM1571.9,456.2H1592.9V459.7H1571.9zM1568.4,459.7H1578.9V463.2H1568.4zM1585.9,459.7H1596.4V463.2H1585.9zM1568.4,463.2H1575.4V466.7H1568.4zM1589.4,463.2H1596.4V466.7H1589.4z" fill="#009e73"/>
<path d="M1603.5,417.9H1610.5V421.4H1603.5zM1624.5,417.9H1631.5V421.4H1624.5zM1603.5,421.4H1614.0V424.9H1603.5zM1621.0,421.4H1631.5V424.9H1621.0zM1607.0,424.9H1628.0V428.4H1607.0zM1610.5,428.4H1624.5V435.4H1610.5zM1607.0,435.4H1628.0V438.9H1607.0zM1603.5,438.9H1614.0V442.4H1603.5zM1621.0,438.9H1631.5V442.4H1621.0zM1603.5,442.4H1610.5V445.9H1603.5zM1624.5,442.4H1631.5V445.9H1624.5z" fill="#009e73"/>
</g>
<g><path clip-path="url(#pc)" d="M244.2,1398.3L279.3,1377.5L279.3,1384.5L244.2,1405.3zM279.3,1377.5L314.4,1359.4L314.4,1366.4L279.3,1384.5zM314.4,1359.4L349.6,1341.7L349.6,1348.7L314.4,1366.4zM349.6,1341.7L384.7,1317.1L384.7,1324.1L349.6,1348.7zM384.7,1317.1L419.8,1296.0L419.8,1303.0L384.7,1324.1zM419.8,1296.0L454.9,1271.2L454.9,1278.2L419.8,1303.0zM454.9,1271.2L490.0,1247.3L490.0,1254.3L454.9,1278.2zM490.0,1247.3L525.1,1217.3L525.1,1224.3L490.0,1254.3zM525.1,1217.3L560.2,1184.1L560.2,1191.1L525.1,1224.3zM560.2,1184.1L595.4,1159.0L595.4,1166.0L560.2,1191.1zM595.4,1159.0L630.5,1127.5L630.5,1134.5L595.4,1166.0zM630.5,1127.5L665.6,1096.0L665.6,1103.0L630.5,1134.5zM665.6,1096.0L700.8,1070.5L700.8,1077.5L665.6,1103.0zM700.8,1070.5L736.0,1044.3L736.0,1051.3L700.8,1077.5zM732.5,1047.8L767.6,1011.8L774.6,1011.8L739.5,1047.8zM771.1,1008.3L806.3,980.5L806.3,987.5L771.1,1015.3zM806.3,980.5L842.2,947.5L842.2,954.5L806.3,987.5zM842.2,947.5L878.2,917.0L878.2,924.0L842.2,954.5zM878.2,917.0L914.2,889.5L914.2,896.5L878.2,924.0zM914.2,889.5L950.1,860.5L950.1,867.5L914.2,896.5zM950.1,860.5L985.2,830.5L985.2,837.5L950.1,867.5zM985.2,830.5L1020.4,801.5L1020.4,808.5L985.2,837.5zM1020.4,801.5L1055.5,771.5L1055.5,778.5L1020.4,808.5zM1055.5,771.5L1090.6,742.5L1090.6,749.5L1055.5,778.5zM1090.6,742.5L1125.8,716.5L1125.8,723.5L1090.6,749.5zM1125.8,716.5L1160.9,691.5L1160.9,698.5L1125.8,723.5zM1160.9,691.5L1196.0,667.5L1196.0,674.5L1160.9,698.5zM1196.0,667.5L1231.2,643.2L1231.2,650.2L1196.0,674.5zM1231.2,643.2L1266.4,618.5L1266.4,625.5L1231.2,650.2zM1266.4,618.5L1301.5,590.3L1301.5,597.3L1266.4,625.5zM1301.5,590.3L1336.6,565.5L1336.6,572.5L1301.5,597.3zM1336.6,565.5L1371.8,544.3L1371.8,551.3L1336.6,572.5zM1371.8,544.3L1406.9,520.3L1406.9,527.3L1371.8,551.3zM1406.9,520.3L1442.0,496.0L1442.0,503.0L1406.9,527.3zM1442.0,496.0L1477.1,470.1L1477.1,477.1L1442.0,503.0zM1477.1,470.1L1512.2,445.6L1512.2,452.6L1477.1,477.1zM1512.2,445.6L1547.3,424.8L1547.3,431.8L1512.2,452.6zM1547.3,424.8L1582.4,401.0L1582.4,408.0L1547.3,431.8zM1582.4,401.0L1617.5,377.0L1617.5,384.0L1582.4,408.0zM1617.5,377.0L1652.6,352.5L1652.6,359.5L1617.5,384.0z" fill="#56b4e9"/>
<path d="M230.2,1387.8H237.2V1391.3H230.2zM251.2,1387.8H258.2V1391.3H251.2zM240.7,1387.8H247.7V1391.3H240.7zM230.2,1391.3H258.2V1394.8H230.2zM233.7,1394.8H254.7V1408.8H233.7zM230.2,1408.8H258.2V1412.3H230.2zM230.2,1412.3H237.2V1415.8H230.2zM251.2,1412.3H258.2V1415.8H251.2zM240.7,1412.3H247.7V1415.8H240.7z" fill="#56b4e9"/>
<path d="M265.3,1367.0H272.3V1370.5H265.3zM286.3,1367.0H293.4V1370.5H286.3zM275.8,1367.0H282.8V1370.5H275.8zM265.3,1370.5H293.4V1374.0H265.3zM268.8,1374.0H289.9V1388.0H268.8zM265.3,1388.0H293.4V1391.5H265.3zM265.3,1391.5H272.3V1395.0H265.3zM286.3,1391.5H293.4V1395.0H286.3zM275.8,1391.5H282.8V1395.0H275.8z" fill="#56b4e9"/>
<path d="M300.4,1348.9H307.4V1352.4H300.4zM321.5,1348.9H328.5V1352.4H321.5zM310.9,1348.9H318.0V1352.4H310.9zM300.4,1352.4H328.5V1355.9H300.4zM303.9,1355.9H325.0V1369.9H303.9zM300.4,1369.9H328.5V1373.4H300.4zM300.4,1373.4H307.4V1376.9H300.4zM321.5,1373.4H328.5V1376.9H321.5zM310.9,1373.4H318.0V1376.9H310.9z" fill="#56b4e9"/>
<path d="M335.5,1331.2H342.6V1334.7H335.5zM356.6,1331.2H363.6V1334.7H356.6zM346.1,1331.2H353.1V1334.7H346.1zM335.5,1334.7H363.6V1338.2H335.5zM339.0,1338.2H360.1V1352.2H339.0zM335.5,1352.2H363.6V1355.7H335.5zM335.5,1355.7H342.6V1359.2H335.5zM356.6,1355.7H363.6V1359.2H356.6zM346.1,1355.7H353.1V1359.2H346.1z" fill="#56b4e9"/>
<path d="M370.7,1306.6H377.7V1310.1H370.7zM391.7,1306.6H398.7V1310.1H391.7zM381.2,1306.6H388.2V1310.1H381.2zM370.7,1310.1H398.7V1313.6H370.7zM374.2,1313.6H395.2V1327.6H374.2zM370.7,1327.6H398.7V1331.1H370.7zM370.7,1331.1H377.7V1334.6H370.7zM391.7,1331.1H398.7V1334.6H391.7zM381.2,1331.1H388.2V1334.6H381.2z" fill="#56b4e9"/>
<path d="M405.8,1285.5H412.8V1289.0H405.8zM426.8,1285.5H433.8V1289.0H426.8zM416.3,1285.5H423.3V1289.0H416.3zM405.8,1289.0H433.8V1292.5H405.8zM409.3,1292.5H430.3V1306.5H409.3zM405.8,1306.5H433.8V1310.0H405.8zM405.8,1310.0H412.8V1313.5H405.8zM426.8,1310.0H433.8V1313.5H426.8zM416.3,1310.0H423.3V1313.5H416.3z" fill="#56b4e9"/>
<path d="M440.9,1260.7H447.9V1264.2H440.9zM461.9,1260.7H468.9V1264.2H461.9zM451.4,1260.7H458.4V1264.2H451.4zM440.9,1264.2H468.9V1267.7H440.9zM444.4,1267.7H465.4V1281.7H444.4zM440.9,1281.7H468.9V1285.2H440.9zM440.9,1285.2H447.9V1288.7H440.9zM461.9,1285.2H468.9V1288.7H461.9zM451.4,1285.2H458.4V1288.7H451.4z" fill="#56b4e9"/>
<path d="M476.0,1236.8H483.0V1240.3H476.0zM497.0,1236.8H504.0V1240.3H497.0zM486.5,1236.8H493.5V1240.3H486.5zM476.0,1240.3H504.0V1243.8H476.0zM479.5,1243.8H500.5V1257.8H479.5zM476.0,1257.8H504.0V1261.3H476.0zM476.0,1261.3H483.0V1264.8H476.0zM497.0,1261.3H504.0V1264.8H497.0zM486.5,1261.3H493.5V1264.8H486.5z" fill="#56b4e9"/>
<path d="M511.1,1206.8H518.1V1210.3H511.1zM532.1,1206.8H539.1V1210.3H532.1zM521.6,1206.8H528.6V1210.3H521.6zM511.1,1210.3H539.1V1213.8H511.1zM514.6,1213.8H535.6V1227.8H514.6zM511.1,1227.8H539.1V1231.3H511.1zM511.1,1231.3H518.1V1234.8H511.1zM532.1,1231.3H539.1V1234.8H532.1zM521.6,1231.3H528.6V1234.8H521.6z" fill="#56b4e9"/>
<path d="M546.2,1173.6H553.2V1177.1H546.2zM567.2,1173.6H574.3V1177.1H567.2zM556.7,1173.6H563.7V1177.1H556.7zM546.2,1177.1H574.3V1180.6H546.2zM549.7,1180.6H570.8V1194.6H549.7zM546.2,1194.6H574.3V1198.1H546.2zM546.2,1198.1H553.2V1201.6H546.2zM567.2,1198.1H574.3V1201.6H567.2zM556.7,1198.1H563.7V1201.6H556.7z" fill="#56b4e9"/>
<path d="M581.3,1148.5H588.3V1152.0H581.3zM602.4,1148.5H609.4V1152.0H602.4zM591.8,1148.5H598.9V1152.0H591.8zM581.3,1152.0H609.4V1155.5H581.3zM584.8,1155.5H605.9V1169.5H584.8zM581.3,1169.5H609.4V1173.0H581.3zM581.3,1173.0H588.3V1176.5H581.3zM602.4,1173.0H609.4V1176.5H602.4zM591.8,1173.0H598.9V1176.5H591.8z" fill="#56b4e9"/>
<path d="M616.4,1117.0H623.5V1120.5H616.4zM637.5,1117.0H644.5V1120.5H637.5zM627.0,1117.0H634.0V1120.5H627.0zM616.4,1120.5H644.5V1124.0H616.4zM619.9,1124.0H641.0V1138.0H619.9zM616.4,1138.0H644.5V1141.5H616.4zM616.4,1141.5H623.5V1145.0H616.4zM637.5,1141.5H644.5V1145.0H637.5zM627.0,1141.5H634.0V1145.0H627.0z" fill="#56b4e9"/>
<path d="M651.6,1085.5H658.6V1089.0H651.6zM672.6,1085.5H679.6V1089.0H672.6zM662.1,1085.5H669.1V1089.0H662.1zM651.6,1089.0H679.6V1092.5H651.6zM655.1,1092.5H676.1V1106.5H655.1zM651.6,1106.5H679.6V1110.0H651.6zM651.6,1110.0H658.6V1113.5H651.6zM672.6,1110.0H679.6V1113.5H672.6zM662.1,1110.0H669.1V1113.5H662.1z" fill="#56b4e9"/>
<path d="M686.7,1060.0H693.8V1063.5H686.7zM707.8,1060.0H714.8V1063.5H707.8zM697.3,1060.0H704.3V1063.5H697.3zM686.7,1063.5H714.8V1067.0H686.7zM690.2,1067.0H711.3V1081.0H690.2zM686.7,1081.0H714.8V1084.5H686.7zM686.7,1084.5H693.8V1088.0H686.7zM707.8,1084.5H714.8V1088.0H707.8zM697.3,1084.5H704.3V1088.0H697.3z" fill="#56b4e9"/>
<path d="M721.9,1033.8H728.9V1037.3H721.9zM743.0,1033.8H750.0V1037.3H743.0zM732.4,1033.8H739.5V1037.3H732.4zM721.9,1037.3H750.0V1040.8H721.9zM725.4,1040.8H746.5V1054.8H725.4zM721.9,1054.8H750.0V1058.3H721.9zM721.9,1058.3H728.9V1061.8H721.9zM743.0,1058.3H750.0V1061.8H743.0zM732.4,1058.3H739.5V1061.8H732.4z" fill="#56b4e9"/>
<path d="M757.1,997.8H764.1V1001.3H757.1zM778.1,997.8H785.2V1001.3H778.1zM767.6,997.8H774.6V1001.3H767.6zM757.1,1001.3H785.2V1004.8H757.1zM760.6,1004.8H781.7V1018.8H760.6zM757.1,1018.8H785.2V1022.3H757.1zM757.1,1022.3H764.1V1025.8H757.1zM778.1,1022.3H785.2V1025.8H778.1zM767.6,1022.3H774.6V1025.8H767.6z" fill="#56b4e9"/>
<path d="M792.3,970.0H799.3V973.5H792.3zM813.3,970.0H820.3V973.5H813.3zM802.8,970.0H809.8V973.5H802.8zM792.3,973.5H820.3V977.0H792.3zM795.8,977.0H816.8V991.0H795.8zM792.3,991.0H820.3V994.5H792.3zM792.3,994.5H799.3V998.0H792.3zM813.3,994.5H820.3V998.0H813.3zM802.8,994.5H809.8V998.0H802.8z" fill="#56b4e9"/>
<path d="M828.2,937.0H835.2V940.5H828.2zM849.3,937.0H856.3V940.5H849.3zM838.7,937.0H845.8V940.5H838.7zM828.2,940.5H856.3V944.0H828.2zM831.7,944.0H852.8V958.0H831.7zM828.2,958.0H856.3V961.5H828.2zM828.2,961.5H835.2V965.0H828.2zM849.3,961.5H856.3V965.0H849.3zM838.7,961.5H845.8V965.0H838.7z" fill="#56b4e9"/>
<path d="M864.2,906.5H871.2V910.0H864.2zM885.2,906.5H892.2V910.0H885.2zM874.7,906.5H881.7V910.0H874.7zM864.2,910.0H892.2V913.5H864.2zM867.7,913.5H888.7V927.5H867.7zM864.2,927.5H892.2V931.0H864.2zM864.2,931.0H871.2V934.5H864.2zM885.2,931.0H892.2V934.5H885.2zM874.7,931.0H881.7V934.5H874.7z" fill="#56b4e9"/>
<path d="M900.1,879.0H907.1V882.5H900.1zM921.2,879.0H928.2V882.5H921.2zM910.6,879.0H917.7V882.5H910.6zM900.1,882.5H928.2V886.0H900.1zM903.6,886.0H924.7V900.0H903.6zM900.1,900.0H928.2V903.5H900.1zM900.1,903.5H907.1V907.0H900.1zM921.2,903.5H928.2V907.0H921.2zM910.6,903.5H917.7V907.0H910.6z" fill="#56b4e9"/>
<path d="M936.1,850.0H943.1V853.5H936.1zM957.1,850.0H964.1V853.5H957.1zM946.6,850.0H953.6V853.5H946.6zM936.1,853.5H964.1V857.0H936.1zM939.6,857.0H960.6V871.0H939.6zM936.1,871.0H964.1V874.5H936.1zM936.1,874.5H943.1V878.0H936.1zM957.1,874.5H964.1V878.0H957.1zM946.6,874.5H953.6V878.0H946.6z" fill="#56b4e9"/>
<path d="M971.2,820.0H978.2V823.5H971.2zM992.2,820.0H999.3V823.5H992.2zM981.7,820.0H988.7V823.5H981.7zM971.2,823.5H999.3V827.0H971.2zM974.7,827.0H995.8V841.0H974.7zM971.2,841.0H999.3V844.5H971.2zM971.2,844.5H978.2V848.0H971.2zM992.2,844.5H999.3V848.0H992.2zM981.7,844.5H988.7V848.0H981.7z" fill="#56b4e9"/>
<path d="M1006.3,791.0H1013.3V794.5H1006.3zM1027.4,791.0H1034.4V794.5H1027.4zM1016.8,791.0H1023.9V794.5H1016.8zM1006.3,794.5H1034.4V798.0H1006.3zM1009.8,798.0H1030.9V812.0H1009.8zM1006.3,812.0H1034.4V815.5H1006.3zM1006.3,815.5H1013.3V819.0H1006.3zM1027.4,815.5H1034.4V819.0H1027.4zM1016.8,815.5H1023.9V819.0H1016.8z" fill="#56b4e9"/>
<path d="M1041.4,761.0H1048.5V764.5H1041.4zM1062.5,761.0H1069.5V764.5H1062.5zM1052.0,761.0H1059.0V764.5H1052.0zM1041.4,764.5H1069.5V768.0H1041.4zM1044.9,768.0H1066.0V782.0H1044.9zM1041.4,782.0H1069.5V785.5H1041.4zM1041.4,785.5H1048.5V789.0H1041.4zM1062.5,785.5H1069.5V789.0H1062.5zM1052.0,785.5H1059.0V789.0H1052.0z" fill="#56b4e9"/>
<path d="M1076.6,732.0H1083.6V735.5H1076.6zM1097.6,732.0H1104.6V735.5H1097.6zM1087.1,732.0H1094.1V735.5H1087.1zM1076.6,735.5H1104.6V739.0H1076.6zM1080.1,739.0H1101.1V753.0H1080.1zM1076.6,753.0H1104.6V756.5H1076.6zM1076.6,756.5H1083.6V760.0H1076.6zM1097.6,756.5H1104.6V760.0H1097.6zM1087.1,756.5H1094.1V760.0H1087.1z" fill="#56b4e9"/>
<path d="M1111.7,706.0H1118.7V709.5H1111.7zM1132.8,706.0H1139.8V709.5H1132.8zM1122.2,706.0H1129.3V709.5H1122.2zM1111.7,709.5H1139.8V713.0H1111.7zM1115.2,713.0H1136.3V727.0H1115.2zM1111.7,727.0H1139.8V730.5H1111.7zM1111.7,730.5H1118.7V734.0H1111.7zM1132.8,730.5H1139.8V734.0H1132.8zM1122.2,730.5H1129.3V734.0H1122.2z" fill="#56b4e9"/>
<path d="M1146.9,681.0H1153.9V684.5H1146.9zM1167.9,681.0H1174.9V684.5H1167.9zM1157.4,681.0H1164.4V684.5H1157.4zM1146.9,684.5H1174.9V688.0H1146.9zM1150.4,688.0H1171.4V702.0H1150.4zM1146.9,702.0H1174.9V705.5H1146.9zM1146.9,705.5H1153.9V709.0H1146.9zM1167.9,705.5H1174.9V709.0H1167.9zM1157.4,705.5H1164.4V709.0H1157.4z" fill="#56b4e9"/>
<path d="M1182.0,657.0H1189.0V660.5H1182.0zM1203.1,657.0H1210.1V660.5H1203.1zM1192.5,657.0H1199.6V660.5H1192.5zM1182.0,660.5H1210.1V664.0H1182.0zM1185.5,664.0H1206.6V678.0H1185.5zM1182.0,678.0H1210.1V681.5H1182.0zM1182.0,681.5H1189.0V685.0H1182.0zM1203.1,681.5H1210.1V685.0H1203.1zM1192.5,681.5H1199.6V685.0H1192.5z" fill="#56b4e9"/>
<path d="M1217.2,632.7H1224.2V636.2H1217.2zM1238.2,632.7H1245.2V636.2H1238.2zM1227.7,632.7H1234.7V636.2H1227.7zM1217.2,636.2H1245.2V639.7H1217.2zM1220.7,639.7H1241.7V653.7H1220.7zM1217.2,653.7H1245.2V657.2H1217.2zM1217.2,657.2H1224.2V660.7H1217.2zM1238.2,657.2H1245.2V660.7H1238.2zM1227.7,657.2H1234.7V660.7H1227.7z" fill="#56b4e9"/>
<path d="M1252.3,608.0H1259.3V611.5H1252.3zM1273.4,608.0H1280.4V611.5H1273.4zM1262.8,608.0H1269.9V611.5H1262.8zM1252.3,611.5H1280.4V615.0H1252.3zM1255.8,615.0H1276.9V629.0H1255.8zM1252.3,629.0H1280.4V632.5H1252.3zM1252.3,632.5H1259.3V636.0H1252.3zM1273.4,632.5H1280.4V636.0H1273.4zM1262.8,632.5H1269.9V636.0H1262.8z" fill="#56b4e9"/>
<path d="M1287.5,579.8H1294.5V583.3H1287.5zM1308.5,579.8H1315.5V583.3H1308.5zM1298.0,579.8H1305.0V583.3H1298.0zM1287.5,583.3H1315.5V586.8H1287.5zM1291.0,586.8H1312.0V600.8H1291.0zM1287.5,600.8H1315.5V604.3H1287.5zM1287.5,604.3H1294.5V607.8H1287.5zM1308.5,604.3H1315.5V607.8H1308.5zM1298.0,604.3H1305.0V607.8H1298.0z" fill="#56b4e9"/>
<path d="M1322.6,555.0H1329.6V558.5H1322.6zM1343.7,555.0H1350.7V558.5H1343.7zM1333.1,555.0H1340.2V558.5H1333.1zM1322.6,558.5H1350.7V562.0H1322.6zM1326.1,562.0H1347.2V576.0H1326.1zM1322.6,576.0H1350.7V579.5H1322.6zM1322.6,579.5H1329.6V583.0H1322.6zM1343.7,579.5H1350.7V583.0H1343.7zM1333.1,579.5H1340.2V583.0H1333.1z" fill="#56b4e9"/>
<path d="M1357.8,533.8H1364.8V537.3H1357.8zM1378.8,533.8H1385.8V537.3H1378.8zM1368.3,533.8H1375.3V537.3H1368.3zM1357.8,537.3H1385.8V540.8H1357.8zM1361.3,540.8H1382.3V554.8H1361.3zM1357.8,554.8H1385.8V558.3H1357.8zM1357.8,558.3H1364.8V561.8H1357.8zM1378.8,558.3H1385.8V561.8H1378.8zM1368.3,558.3H1375.3V561.8H1368.3z" fill="#56b4e9"/>
<path d="M1392.9,509.8H1399.9V513.3H1392.9zM1413.9,509.8H1420.9V513.3H1413.9zM1403.4,509.8H1410.4V513.3H1403.4zM1392.9,513.3H1420.9V516.8H1392.9zM1396.4,516.8H1417.4V530.8H1396.4zM1392.9,530.8H1420.9V534.3H1392.9zM1392.9,534.3H1399.9V537.8H1392.9zM1413.9,534.3H1420.9V537.8H1413.9zM1403.4,534.3H1410.4V537.8H1403.4z" fill="#56b4e9"/>
<path d="M1428.0,485.5H1435.0V489.0H1428.0zM1449.0,485.5H1456.0V489.0H1449.0zM1438.5,485.5H1445.5V489.0H1438.5zM1428.0,489.0H1456.0V492.5H1428.0zM1431.5,492.5H1452.5V506.5H1431.5zM1428.0,506.5H1456.0V510.0H1428.0zM1428.0,510.0H1435.0V513.5H1428.0zM1449.0,510.0H1456.0V513.5H1449.0zM1438.5,510.0H1445.5V513.5H1438.5z" fill="#56b4e9"/>
<path d="M1463.1,459.6H1470.1V463.1H1463.1zM1484.1,459.6H1491.1V463.1H1484.1zM1473.6,459.6H1480.6V463.1H1473.6zM1463.1,463.1H1491.1V466.6H1463.1zM1466.6,466.6H1487.6V480.6H1466.6zM1463.1,480.6H1491.1V484.1H1463.1zM1463.1,484.1H1470.1V487.6H1463.1zM1484.1,484.1H1491.1V487.6H1484.1zM1473.6,484.1H1480.6V487.6H1473.6z" fill="#56b4e9"/>
<path d="M1498.2,435.1H1505.2V438.6H1498.2zM1519.2,435.1H1526.2V438.6H1519.2zM1508.7,435.1H1515.7V438.6H1508.7zM1498.2,438.6H1526.2V442.1H1498.2zM1501.7,442.1H1522.7V456.1H1501.7zM1498.2,456.1H1526.2V459.6H1498.2zM1498.2,459.6H1505.2V463.1H1498.2zM1519.2,459.6H1526.2V463.1H1519.2zM1508.7,459.6H1515.7V463.1H1508.7z" fill="#56b4e9"/>
<path d="M1533.3,414.3H1540.3V417.8H1533.3zM1554.3,414.3H1561.3V417.8H1554.3zM1543.8,414.3H1550.8V417.8H1543.8zM1533.3,417.8H1561.3V421.3H1533.3zM1536.8,421.3H1557.8V435.3H1536.8zM1533.3,435.3H1561.3V438.8H1533.3zM1533.3,438.8H1540.3V442.3H1533.3zM1554.3,438.8H1561.3V442.3H1554.3zM1543.8,438.8H1550.8V442.3H1543.8z" fill="#56b4e9"/>
<path d="M1568.4,390.5H1575.4V394.0H1568.4zM1589.4,390.5H1596.4V394.0H1589.4zM1578.9,390.5H1585.9V394.0H1578.9zM1568.4,394.0H1596.4V397.5H1568.4zM1571.9,397.5H1592.9V411.5H1571.9zM1568.4,411.5H1596.4V415.0H1568.4zM1568.4,415.0H1575.4V418.5H1568.4zM1589.4,415.0H1596.4V418.5H1589.4zM1578.9,415.0H1585.9V418.5H1578.9z" fill="#56b4e9"/>
<path d="M1603.5,366.5H1610.5V370.0H1603.5zM1624.5,366.5H1631.5V370.0H1624.5zM1614.0,366.5H1621.0V370.0H1614.0zM1603.5,370.0H1631.5V373.5H1603.5zM1607.0,373.5H1628.0V387.5H1607.0zM1603.5,387.5H1631.5V391.0H1603.5zM1603.5,391.0H1610.5V394.5H1603.5zM1624.5,391.0H1631.5V394.5H1624.5zM1614.0,391.0H1621.0V394.5H1614.0z" fill="#56b4e9"/>
<path d="M1638.6,342.0H1645.6V345.5H1638.6zM1659.6,342.0H1666.6V345.5H1659.6zM1649.1,342.0H1656.1V345.5H1649.1zM1638.6,345.5H1666.6V349.0H1638.6zM1642.1,349.0H1663.1V363.0H1642.1zM1638.6,363.0H1666.6V366.5H1638.6zM1638.6,366.5H1645.6V370.0H1638.6zM1659.6,366.5H1666.6V370.0H1659.6zM1649.1,366.5H1656.1V370.0H1649.1z" fill="#56b4e9"/>
</g>
<g><path clip-path="url(#pc)" d="M244.2,1466.0L279.3,1457.5L279.3,1464.5L244.2,1473.0zM279.3,1457.5L314.4,1440.5L314.4,1447.5L279.3,1464.5zM314.4,1440.5L349.6,1418.2L349.6,1425.2L314.4,1447.5zM349.6,1418.2L384.7,1390.2L384.7,1397.2L349.6,1425.2zM384.7,1390.2L419.8,1358.4L419.8,1365.4L384.7,1397.2zM419.8,1358.4L454.9,1327.5L454.9,1334.5L419.8,1365.4zM454.9,1327.5L490.0,1296.0L490.0,1303.0L454.9,1334.5zM490.0,1296.0L525.1,1267.0L525.1,1274.0L490.0,1303.0zM525.1,1267.0L560.2,1232.9L560.2,1239.9L525.1,1274.0zM560.2,1232.9L595.4,1200.7L595.4,1207.7L560.2,1239.9zM595.4,1200.7L630.5,1166.2L630.5,1173.2L595.4,1207.7zM627.0,1169.7L662.1,1134.4L669.1,1134.4L634.0,1169.7zM665.6,1130.9L700.8,1097.3L700.8,1104.3L665.6,1137.9zM700.8,1097.3L736.0,1064.7L736.0,1071.7L700.8,1104.3zM736.0,1064.7L771.1,1032.5L771.1,1039.5L736.0,1071.7zM771.1,1032.5L806.3,998.1L806.3,1005.1L771.1,1039.5zM806.3,998.1L842.2,962.6L842.2,969.6L806.3,1005.1zM842.2,962.6L878.2,931.7L878.2,938.7L842.2,969.6zM878.2,931.7L914.2,903.1L914.2,910.1L878.2,938.7zM914.2,903.1L950.1,871.3L950.1,878.3L914.2,910.1zM950.1,871.3L985.2,839.5L985.2,846.5L950.1,878.3zM985.2,839.5L1020.4,811.3L1020.4,818.3L985.2,846.5zM1020.4,811.3L1055.5,780.0L1055.5,787.0L1020.4,818.3zM1055.5,780.0L1090.6,751.9L1090.6,758.9L1055.5,787.0zM1090.6,751.9L1125.8,723.6L1125.8,730.6L1090.6,758.9zM1125.8,723.6L1160.9,695.4L1160.9,702.4L1125.8,730.6zM1160.9,695.4L1196.0,667.1L1196.0,674.1L1160.9,702.4zM1196.0,667.1L1231.2,639.7L1231.2,646.7L1196.0,674.1zM1231.2,639.7L1266.4,611.9L1266.4,618.9L1231.2,646.7zM1266.4,611.9L1301.5,583.7L1301.5,590.7L1266.4,618.9zM1301.5,583.7L1336.6,554.9L1336.6,561.9L1301.5,590.7zM1336.6,554.9L1371.8,527.5L1371.8,534.5L1336.6,561.9zM1371.8,527.5L1406.9,502.3L1406.9,509.3L1371.8,534.5zM1406.9,502.3L1442.0,474.8L1442.0,481.8L1406.9,509.3zM1442.0,474.8L1477.1,450.3L1477.1,457.3L1442.0,481.8zM1477.1,450.3L1512.2,425.8L1512.2,432.8L1477.1,457.3zM1512.2,425.8L1547.3,402.5L1547.3,409.5L1512.2,432.8zM1547.3,402.5L1582.4,377.5L1582.4,384.5L1547.3,409.5zM1582.4,377.5L1617.5,355.5L1617.5,362.5L1582.4,384.5zM1617.5,355.5L1652.6,330.1L1652.6,337.1L1617.5,362.5z" fill="#e69f00"/>
<path d="M230.2,1455.5H258.2V1462.5H230.2zM230.2,1462.5H237.2V1476.5H230.2zM251.2,1462.5H258.2V1476.5H251.2zM230.2,1476.5H258.2V1483.5H230.2z" fill="#e69f00"/>
<path d="M265.3,1447.0H293.4V1454.0H265.3zM265.3,1454.0H272.3V1468.0H265.3zM286.3,1454.0H293.4V1468.0H286.3zM265.3,1468.0H293.4V1475.0H265.3z" fill="#e69f00"/>
<path d="M300.4,1430.0H328.5V1437.0H300.4zM300.4,1437.0H307.4V1451.0H300.4zM321.5,1437.0H328.5V1451.0H321.5zM300.4,1451.0H328.5V1458.0H300.4z" fill="#e69f00"/>
<path d="M335.5,1407.7H363.6V1414.7H335.5zM335.5,1414.7H342.6V1428.7H335.5zM356.6,1414.7H363.6V1428.7H356.6zM335.5,1428.7H363.6V1435.7H335.5z" fill="#e69f00"/>
<path d="M370.7,1379.7H398.7V1386.7H370.7zM370.7,1386.7H377.7V1400.7H370.7zM391.7,1386.7H398.7V1400.7H391.7zM370.7,1400.7H398.7V1407.7H370.7z" fill="#e69f00"/>
<path d="M405.8,1347.9H433.8V1354.9H405.8zM405.8,1354.9H412.8V1368.9H405.8zM426.8,1354.9H433.8V1368.9H426.8zM405.8,1368.9H433.8V1375.9H405.8z" fill="#e69f00"/>
<path d="M440.9,1317.0H468.9V1324.0H440.9zM440.9,1324.0H447.9V1338.0H440.9zM461.9,1324.0H468.9V1338.0H461.9zM440.9,1338.0H468.9V1345.0H440.9z" fill="#e69f00"/>
<path d="M476.0,1285.5H504.0V1292.5H476.0zM476.0,1292.5H483.0V1306.5H476.0zM497.0,1292.5H504.0V1306.5H497.0zM476.0,1306.5H504.0V1313.5H476.0z" fill="#e69f00"/>
<path d="M511.1,1256.5H539.1V1263.5H511.1zM511.1,1263.5H518.1V1277.5H511.1zM532.1,1263.5H539.1V1277.5H532.1zM511.1,1277.5H539.1V1284.5H511.1z" fill="#e69f00"/>
<path d="M546.2,1222.4H574.3V1229.4H546.2zM546.2,1229.4H553.2V1243.4H546.2zM567.2,1229.4H574.3V1243.4H567.2zM546.2,1243.4H574.3V1250.4H546.2z" fill="#e69f00"/>
<path d="M581.3,1190.2H609.4V1197.2H581.3zM581.3,1197.2H588.3V1211.2H581.3zM602.4,1197.2H609.4V1211.2H602.4zM581.3,1211.2H609.4V1218.2H581.3z" fill="#e69f00"/>
<path d="M616.4,1155.7H644.5V1162.7H616.4zM616.4,1162.7H623.5V1176.7H616.4zM637.5,1162.7H644.5V1176.7H637.5zM616.4,1176.7H644.5V1183.7H616.4z" fill="#e69f00"/>
<path d="M651.6,1120.4H679.6V1127.4H651.6zM651.6,1127.4H658.6V1141.4H651.6zM672.6,1127.4H679.6V1141.4H672.6zM651.6,1141.4H679.6V1148.4H651.6z" fill="#e69f00"/>
<path d="M686.7,1086.8H714.8V1093.8H686.7zM686.7,1093.8H693.8V1107.8H686.7zM707.8,1093.8H714.8V1107.8H707.8zM686.7,1107.8H714.8V1114.8H686.7z" fill="#e69f00"/>
<path d="M721.9,1054.2H750.0V1061.2H721.9zM721.9,1061.2H728.9V1075.2H721.9zM743.0,1061.2H750.0V1075.2H743.0zM721.9,1075.2H750.0V1082.2H721.9z" fill="#e69f00"/>
<path d="M757.1,1022.0H785.2V1029.0H757.1zM757.1,1029.0H764.1V1043.0H757.1zM778.1,1029.0H785.2V1043.0H778.1zM757.1,1043.0H785.2V1050.0H757.1z" fill="#e69f00"/>
<path d="M792.3,987.6H820.3V994.6H792.3zM792.3,994.6H799.3V1008.6H792.3zM813.3,994.6H820.3V1008.6H813.3zM792.3,1008.6H820.3V1015.6H792.3z" fill="#e69f00"/>
<path d="M828.2,952.1H856.3V959.1H828.2zM828.2,959.1H835.2V973.1H828.2zM849.3,959.1H856.3V973.1H849.3zM828.2,973.1H856.3V980.1H828.2z" fill="#e69f00"/>
<path d="M864.2,921.2H892.2V928.2H864.2zM864.2,928.2H871.2V942.2H864.2zM885.2,928.2H892.2V942.2H885.2zM864.2,942.2H892.2V949.2H864.2z" fill="#e69f00"/>
<path d="M900.1,892.6H928.2V899.6H900.1zM900.1,899.6H907.1V913.6H900.1zM921.2,899.6H928.2V913.6H921.2zM900.1,913.6H928.2V920.6H900.1z" fill="#e69f00"/>
<path d="M936.1,860.8H964.1V867.8H936.1zM936.1,867.8H943.1V881.8H936.1zM957.1,867.8H964.1V881.8H957.1zM936.1,881.8H964.1V888.8H936.1z" fill="#e69f00"/>
<path d="M971.2,829.0H999.3V836.0H971.2zM971.2,836.0H978.2V850.0H971.2zM992.2,836.0H999.3V850.0H992.2zM971.2,850.0H999.3V857.0H971.2z" fill="#e69f00"/>
<path d="M1006.3,800.8H1034.4V807.8H1006.3zM1006.3,807.8H1013.3V821.8H1006.3zM1027.4,807.8H1034.4V821.8H1027.4zM1006.3,821.8H1034.4V828.8H1006.3z" fill="#e69f00"/>
<path d="M1041.4,769.5H1069.5V776.5H1041.4zM1041.4,776.5H1048.5V790.5H1041.4zM1062.5,776.5H1069.5V790.5H1062.5zM1041.4,790.5H1069.5V797.5H1041.4z" fill="#e69f00"/>
<path d="M1076.6,741.4H1104.6V748.4H1076.6zM1076.6,748.4H1083.6V762.4H1076.6zM1097.6,748.4H1104.6V762.4H1097.6zM1076.6,762.4H1104.6V769.4H1076.6z" fill="#e69f00"/>
<path d="M1111.7,713.1H1139.8V720.1H1111.7zM1111.7,720.1H1118.7V734.1H1111.7zM1132.8,720.1H1139.8V734.1H1132.8zM1111.7,734.1H1139.8V741.1H1111.7z" fill="#e69f00"/>
<path d="M1146.9,684.9H1174.9V691.9H1146.9zM1146.9,691.9H1153.9V705.9H1146.9zM1167.9,691.9H1174.9V705.9H1167.9zM1146.9,705.9H1174.9V712.9H1146.9z" fill="#e69f00"/>
<path d="M1182.0,656.6H1210.1V663.6H1182.0zM1182.0,663.6H1189.0V677.6H1182.0zM1203.1,663.6H1210.1V677.6H1203.1zM1182.0,677.6H1210.1V684.6H1182.0z" fill="#e69f00"/>
<path d="M1217.2,629.2H1245.2V636.2H1217.2zM1217.2,636.2H1224.2V650.2H1217.2zM1238.2,636.2H1245.2V650.2H1238.2zM1217.2,650.2H1245.2V657.2H1217.2z" fill="#e69f00"/>
<path d="M1252.3,601.4H1280.4V608.4H1252.3zM1252.3,608.4H1259.3V622.4H1252.3zM1273.4,608.4H1280.4V622.4H1273.4zM1252.3,622.4H1280.4V629.4H1252.3z" fill="#e69f00"/>
<path d="M1287.5,573.2H1315.5V580.2H1287.5zM1287.5,580.2H1294.5V594.2H1287.5zM1308.5,580.2H1315.5V594.2H1308.5zM1287.5,594.2H1315.5V601.2H1287.5z" fill="#e69f00"/>
<path d="M1322.6,544.4H1350.7V551.4H1322.6zM1322.6,551.4H1329.6V565.4H1322.6zM1343.7,551.4H1350.7V565.4H1343.7zM1322.6,565.4H1350.7V572.4H1322.6z" fill="#e69f00"/>
<path d="M1357.8,517.0H1385.8V524.0H1357.8zM1357.8,524.0H1364.8V538.0H1357.8zM1378.8,524.0H1385.8V538.0H1378.8zM1357.8,538.0H1385.8V545.0H1357.8z" fill="#e69f00"/>
<path d="M1392.9,491.8H1420.9V498.8H1392.9zM1392.9,498.8H1399.9V512.8H1392.9zM1413.9,498.8H1420.9V512.8H1413.9zM1392.9,512.8H1420.9V519.8H1392.9z" fill="#e69f00"/>
<path d="M1428.0,464.3H1456.0V471.3H1428.0zM1428.0,471.3H1435.0V485.3H1428.0zM1449.0,471.3H1456.0V485.3H1449.0zM1428.0,485.3H1456.0V492.3H1428.0z" fill="#e69f00"/>
<path d="M1463.1,439.8H1491.1V446.8H1463.1zM1463.1,446.8H1470.1V460.8H1463.1zM1484.1,446.8H1491.1V460.8H1484.1zM1463.1,460.8H1491.1V467.8H1463.1z" fill="#e69f00"/>
<path d="M1498.2,415.3H1526.2V422.3H1498.2zM1498.2,422.3H1505.2V436.3H1498.2zM1519.2,422.3H1526.2V436.3H1519.2zM1498.2,436.3H1526.2V443.3H1498.2z" fill="#e69f00"/>
<path d="M1533.3,392.0H1561.3V399.0H1533.3zM1533.3,399.0H1540.3V413.0H1533.3zM1554.3,399.0H1561.3V413.0H1554.3zM1533.3,413.0H1561.3V420.0H1533.3z" fill="#e69f00"/>
<path d="M1568.4,367.0H1596.4V374.0H1568.4zM1568.4,374.0H1575.4V388.0H1568.4zM1589.4,374.0H1596.4V388.0H1589.4zM1568.4,388.0H1596.4V395.0H1568.4z" fill="#e69f00"/>
<path d="M1603.5,345.0H1631.5V352.0H1603.5zM1603.5,352.0H1610.5V366.0H1603.5zM1624.5,352.0H1631.5V366.0H1624.5zM1603.5,366.0H1631.5V373.0H1603.5z" fill="#e69f00"/>
<path d="M1638.6,319.6H1666.6V326.6H1638.6zM1638.6,326.6H1645.6V340.6H1638.6zM1659.6,326.6H1666.6V340.6H1659.6zM1638.6,340.6H1666.6V347.6H1638.6z" fill="#e69f00"/>
</g>
<g><path clip-path="url(#pc)" d="M244.2,1465.1L279.3,1456.7L279.3,1463.7L244.2,1472.1zM279.3,1456.7L314.4,1443.9L314.4,1450.9L279.3,1463.7zM314.4,1443.9L349.6,1419.2L349.6,1426.2L314.4,1450.9zM349.6,1419.2L384.7,1391.2L384.7,1398.2L349.6,1426.2zM384.7,1391.2L419.8,1359.4L419.8,1366.4L384.7,1398.2zM419.8,1359.4L454.9,1328.5L454.9,1335.5L419.8,1366.4zM454.9,1328.5L490.0,1296.6L490.0,1303.6L454.9,1335.5zM490.0,1296.6L525.1,1266.8L525.1,1273.8L490.0,1303.6zM521.6,1270.3L556.7,1235.0L563.7,1235.0L528.6,1270.3zM556.7,1235.0L591.9,1197.9L598.9,1197.9L563.7,1235.0zM595.4,1194.4L630.5,1160.8L630.5,1167.8L595.4,1201.4zM627.0,1164.3L662.1,1129.0L669.1,1129.0L634.0,1164.3zM665.6,1125.5L700.8,1092.6L700.8,1099.6L665.6,1132.5zM697.3,1096.1L732.5,1060.8L739.5,1060.8L704.3,1096.1zM732.5,1060.8L767.6,1025.2L774.6,1025.2L739.5,1060.8zM771.1,1021.7L806.3,987.3L806.3,994.3L771.1,1028.7zM806.3,987.3L842.2,952.4L842.2,959.4L806.3,994.3zM842.2,952.4L878.2,920.4L878.2,927.4L842.2,959.4zM878.2,920.4L914.2,885.7L914.2,892.7L878.2,927.4zM914.2,885.7L950.1,854.1L950.1,861.1L914.2,892.7zM950.1,854.1L985.2,822.5L985.2,829.5L950.1,861.1zM985.2,822.5L1020.4,789.7L1020.4,796.7L985.2,829.5zM1020.4,789.7L1055.5,762.4L1055.5,769.4L1020.4,796.7zM1055.5,762.4L1090.6,734.5L1090.6,741.5L1055.5,769.4zM1090.6,734.5L1125.8,702.6L1125.8,709.6L1090.6,741.5zM1125.8,702.6L1160.9,674.9L1160.9,681.9L1125.8,709.6zM1160.9,674.9L1196.0,650.1L1196.0,657.1L1160.9,681.9zM1196.0,650.1L1231.2,621.9L1231.2,628.9L1196.0,657.1zM1231.2,621.9L1266.4,594.0L1266.4,601.0L1231.2,628.9zM1266.4,594.0L1301.5,565.7L1301.5,572.7L1266.4,601.0zM1301.5,565.7L1336.6,541.4L1336.6,548.4L1301.5,572.7zM1336.6,541.4L1371.8,516.8L1371.8,523.8L1336.6,548.4zM1371.8,516.8L1406.9,484.9L1406.9,491.9L1371.8,523.8zM1406.9,484.9L1442.0,460.3L1442.0,467.3L1406.9,491.9zM1442.0,460.3L1477.1,432.2L1477.1,439.2L1442.0,467.3zM1477.1,432.2L1512.2,406.6L1512.2,413.6L1477.1,439.2zM1512.2,406.6L1547.3,381.6L1547.3,388.6L1512.2,413.6zM1547.3,381.6L1582.4,355.1L1582.4,362.1L1547.3,388.6zM1582.4,355.1L1617.5,330.5L1617.5,337.5L1582.4,362.1zM1617.5,330.5L1652.6,303.7L1652.6,310.7L1617.5,337.5z" fill="#f0e442"/>
<path d="M230.2,1454.6H258.2V1482.6H230.2z" fill="#f0e442"/>
<path d="M265.3,1446.2H293.4V1474.2H265.3z" fill="#f0e442"/>
<path d="M300.4,1433.4H328.5V1461.4H300.4z" fill="#f0e442"/>
<path d="M335.5,1408.7H363.6V1436.7H335.5z" fill="#f0e442"/>
<path d="M370.7,1380.7H398.7V1408.7H370.7z" fill="#f0e442"/>
<path d="M405.8,1348.9H433.8V1376.9H405.8z" fill="#f0e442"/>
<path d="M440.9,1318.0H468.9V1346.0H440.9z" fill="#f0e442"/>
<path d="M476.0,1286.1H504.0V1314.1H476.0z" fill="#f0e442"/>
<path d="M511.1,1256.3H539.1V1284.3H511.1z" fill="#f0e442"/>
<path d="M546.2,1221.0H574.3V1249.0H546.2z" fill="#f0e442"/>
<path d="M581.3,1183.9H609.4V1211.9H581.3z" fill="#f0e442"/>
<path d="M616.4,1150.3H644.5V1178.3H616.4z" fill="#f0e442"/>
<path d="M651.6,1115.0H679.6V1143.0H651.6z" fill="#f0e442"/>
<path d="M686.7,1082.1H714.8V1110.1H686.7z" fill="#f0e442"/>
<path d="M721.9,1046.8H750.0V1074.8H721.9z" fill="#f0e442"/>
<path d="M757.1,1011.2H785.2V1039.2H757.1z" fill="#f0e442"/>
<path d="M792.3,976.8H820.3V1004.8H792.3z" fill="#f0e442"/>
<path d="M828.2,941.9H856.3V969.9H828.2z" fill="#f0e442"/>
<path d="M864.2,909.9H892.2V937.9H864.2z" fill="#f0e442"/>
<path d="M900.1,875.2H928.2V903.2H900.1z" fill="#f0e442"/>
<path d="M936.1,843.6H964.1V871.6H936.1z" fill="#f0e442"/>
<path d="M971.2,812.0H999.3V840.0H971.2z" fill="#f0e442"/>
<path d="M1006.3,779.2H1034.4V807.2H1006.3z" fill="#f0e442"/>
<path d="M1041.4,751.9H1069.5V779.9H1041.4z" fill="#f0e442"/>
<path d="M1076.6,724.0H1104.6V752.0H1076.6z" fill="#f0e442"/>
<path d="M1111.7,692.1H1139.8V720.1H1111.7z" fill="#f0e442"/>
<path d="M1146.9,664.4H1174.9V692.4H1146.9z" fill="#f0e442"/>
<path d="M1182.0,639.6H1210.1V667.6H1182.0z" fill="#f0e442"/>
<path d="M1217.2,611.4H1245.2V639.4H1217.2z" fill="#f0e442"/>
<path d="M1252.3,583.5H1280.4V611.5H1252.3z" fill="#f0e442"/>
<path d="M1287.5,555.2H1315.5V583.2H1287.5z" fill="#f0e442"/>
<path d="M1322.6,530.9H1350.7V558.9H1322.6z" fill="#f0e442"/>
<path d="M1357.8,506.3H1385.8V534.3H1357.8z" fill="#f0e442"/>
<path d="M1392.9,474.4H1420.9V502.4H1392.9z" fill="#f0e442"/>
<path d="M1428.0,449.8H1456.0V477.8H1428.0z" fill="#f0e442"/>
<path d="M1463.1,421.7H1491.1V449.7H1463.1z" fill="#f0e442"/>
<path d="M1498.2,396.1H1526.2V424.1H1498.2z" fill="#f0e442"/>
<path d="M1533.3,371.1H1561.3V399.1H1533.3z" fill="#f0e442"/>
<path d="M1568.4,344.6H1596.4V372.6H1568.4z" fill="#f0e442"/>
<path d="M1603.5,320.0H1631.5V348.0H1603.5z" fill="#f0e442"/>
</g>
<g><path clip-path="url(#pc)" d="M244.2,1468.4L279.3,1461.4L279.3,1468.4L244.2,1475.4zM279.3,1461.4L314.4,1443.7L314.4,1450.7L279.3,1468.4zM314.4,1443.7L349.6,1419.2L349.6,1426.2L314.4,1450.7zM349.6,1419.2L384.7,1387.6L384.7,1394.6L349.6,1426.2zM384.7,1387.6L419.8,1352.6L419.8,1359.6L384.7,1394.6zM416.3,1356.1L451.4,1320.5L458.4,1320.5L423.3,1356.1zM451.4,1320.5L486.5,1282.0L493.5,1282.0L458.4,1320.5zM490.0,1278.5L525.1,1243.5L525.1,1250.5L490.0,1285.5zM521.6,1247.0L556.7,1208.6L563.7,1208.6L528.6,1247.0zM556.7,1208.6L591.9,1173.1L598.9,1173.1L563.7,1208.6zM591.9,1173.1L627.0,1137.8L634.0,1137.8L598.9,1173.1zM627.0,1137.8L662.1,1097.0L669.1,1097.0L634.0,1137.8zM662.1,1097.0L697.3,1060.4L704.3,1060.4L669.1,1097.0zM697.3,1060.4L732.5,1022.0L739.5,1022.0L704.3,1060.4zM732.5,1022.0L767.6,983.7L774.6,983.7L739.5,1022.0zM767.6,983.7L802.8,948.5L809.8,948.5L774.6,983.7zM806.3,945.0L842.2,910.0L842.2,917.0L806.3,952.0zM838.8,913.5L874.7,874.8L881.7,874.8L845.8,913.5zM878.2,871.3L914.2,839.2L914.2,846.2L878.2,878.3zM914.2,839.2L950.1,804.7L950.1,811.7L914.2,846.2zM950.1,804.7L985.2,774.5L985.2,781.5L950.1,811.7zM981.7,778.0L1016.9,741.6L1023.9,741.6L988.7,778.0zM1020.4,738.1L1055.5,706.3L1055.5,713.3L1020.4,745.1zM1055.5,706.3L1090.6,673.8L1090.6,680.8L1055.5,713.3zM1090.6,673.8L1125.8,646.5L1125.8,653.5L1090.6,680.8zM1125.8,646.5L1160.9,614.8L1160.9,621.8L1125.8,653.5zM1160.9,614.8L1196.0,585.5L1196.0,592.5L1160.9,621.8zM1196.0,585.5L1231.2,558.8L1231.2,565.8L1196.0,592.5zM1231.2,558.8L1266.4,530.8L1266.4,537.8L1231.2,565.8zM1266.4,530.8L1301.5,502.5L1301.5,509.5L1266.4,537.8zM1301.5,502.5L1336.6,471.4L1336.6,478.4L1301.5,509.5zM1336.6,471.4L1371.8,442.9L1371.8,449.9L1336.6,478.4zM1371.8,442.9L1406.9,411.5L1406.9,418.5L1371.8,449.9zM1406.9,411.5L1442.0,387.0L1442.0,394.0L1406.9,418.5zM1442.0,387.0L1477.1,358.7L1477.1,365.7L1442.0,394.0zM1477.1,358.7L1512.2,333.3L1512.2,340.3L1477.1,365.7zM1512.2,333.3L1547.3,302.8L1547.3,309.8L1512.2,340.3zM1547.3,302.8L1582.4,274.0L1582.4,281.0L1547.3,309.8zM1582.4,274.0L1617.5,245.8L1617.5,252.8L1582.4,281.0zM1617.5,245.8L1652.6,217.5L1652.6,224.5L1617.5,252.8z" fill="#0072b2"/>
<path d="M240.7,1457.9H247.7V1461.4H240.7zM233.7,1461.4H254.7V1468.4H233.7zM230.2,1468.4H258.2V1475.4H230.2zM233.7,1475.4H254.7V1482.4H233.7zM240.7,1482.4H247.7V1485.9H240.7z" fill="#0072b2"/>
<path d="M275.8,1450.9H282.8V1454.4H275.8zM268.8,1454.4H289.9V1461.4H268.8zM265.3,1461.4H293.4V1468.4H265.3zM268.8,1468.4H289.9V1475.4H268.8zM275.8,1475.4H282.8V1478.9H275.8z" fill="#0072b2"/>
<path d="M310.9,1433.2H318.0V1436.7H310.9zM303.9,1436.7H325.0V1443.7H303.9zM300.4,1443.7H328.5V1450.7H300.4zM303.9,1450.7H325.0V1457.7H303.9zM310.9,1457.7H318.0V1461.2H310.9z" fill="#0072b2"/>
<path d="M346.1,1408.7H353.1V1412.2H346.1zM339.0,1412.2H360.1V1419.2H339.0zM335.5,1419.2H363.6V1426.2H335.5zM339.0,1426.2H360.1V1433.2H339.0zM346.1,1433.2H353.1V1436.7H346.1z" fill="#0072b2"/>
<path d="M381.2,1377.1H388.2V1380.6H381.2zM374.2,1380.6H395.2V1387.6H374.2zM370.7,1387.6H398.7V1394.6H370.7zM374.2,1394.6H395.2V1401.6H374.2zM381.2,1401.6H388.2V1405.1H381.2z" fill="#0072b2"/>
<path d="M416.3,1342.1H423.3V1345.6H416.3zM409.3,1345.6H430.3V1352.6H409.3zM405.8,1352.6H433.8V1359.6H405.8zM409.3,1359.6H430.3V1366.6H409.3zM416.3,1366.6H423.3V1370.1H416.3z" fill="#0072b2"/>
<path d="M451.4,1306.5H458.4V1310.0H451.4zM444.4,1310.0H465.4V1317.0H444.4zM440.9,1317.0H468.9V1324.0H440.9zM444.4,1324.0H465.4V1331.0H444.4zM451.4,1331.0H458.4V1334.5H451.4z" fill="#0072b2"/>
<path d="M486.5,1268.0H493.5V1271.5H486.5zM479.5,1271.5H500.5V1278.5H479.5zM476.0,1278.5H504.0V1285.5H476.0zM479.5,1285.5H500.5V1292.5H479.5zM486.5,1292.5H493.5V1296.0H486.5z" fill="#0072b2"/>
<path d="M521.6,1233.0H528.6V1236.5H521.6zM514.6,1236.5H535.6V1243.5H514.6zM511.1,1243.5H539.1V1250.5H511.1zM514.6,1250.5H535.6V1257.5H514.6zM521.6,1257.5H528.6V1261.0H521.6z" fill="#0072b2"/>
<path d="M556.7,1194.6H563.7V1198.1H556.7zM549.7,1198.1H570.8V1205.1H549.7zM546.2,1205.1H574.3V1212.1H546.2zM549.7,1212.1H570.8V1219.1H549.7zM556.7,1219.1H563.7V1222.6H556.7z" fill="#0072b2"/>
<path d="M591.8,1159.1H598.9V1162.6H591.8zM584.8,1162.6H605.9V1169.6H584.8zM581.3,1169.6H609.4V1176.6H581.3zM584.8,1176.6H605.9V1183.6H584.8zM591.8,1183.6H598.9V1187.1H591.8z" fill="#0072b2"/>
<path d="M627.0,1123.8H634.0V1127.3H627.0zM619.9,1127.3H641.0V1134.3H619.9zM616.4,1134.3H644.5V1141.3H616.4zM619.9,1141.3H641.0V1148.3H619.9zM627.0,1148.3H634.0V1151.8H627.0z" fill="#0072b2"/>
<path d="M662.1,1083.0H669.1V1086.5H662.1zM655.1,1086.5H676.1V1093.5H655.1zM651.6,1093.5H679.6V1100.5H651.6zM655.1,1100.5H676.1V1107.5H655.1zM662.1,1107.5H669.1V1111.0H662.1z" fill="#0072b2"/>
<path d="M697.3,1046.4H704.3V1049.9H697.3zM690.2,1049.9H711.3V1056.9H690.2zM686.7,1056.9H714.8V1063.9H686.7zM690.2,1063.9H711.3V1070.9H690.2zM697.3,1070.9H704.3V1074.4H697.3z" fill="#0072b2"/>
<path d="M732.4,1008.0H739.5V1011.5H732.4zM725.4,1011.5H746.5V1018.5H725.4zM721.9,1018.5H750.0V1025.5H721.9zM725.4,1025.5H746.5V1032.5H725.4zM732.4,1032.5H739.5V1036.0H732.4z" fill="#0072b2"/>
<path d="M767.6,969.7H774.6V973.2H767.6zM760.6,973.2H781.7V980.2H760.6zM757.1,980.2H785.2V987.2H757.1zM760.6,987.2H781.7V994.2H760.6zM767.6,994.2H774.6V997.7H767.6z" fill="#0072b2"/>
<path d="M802.8,934.5H809.8V938.0H802.8zM795.8,938.0H816.8V945.0H795.8zM792.3,945.0H820.3V952.0H792.3zM795.8,952.0H816.8V959.0H795.8zM802.8,959.0H809.8V962.5H802.8z" fill="#0072b2"/>
<path d="M838.7,899.5H845.8V903.0H838.7zM831.7,903.0H852.8V910.0H831.7zM828.2,910.0H856.3V917.0H828.2zM831.7,917.0H852.8V924.0H831.7zM838.7,924.0H845.8V927.5H838.7z" fill="#0072b2"/>
<path d="M874.7,860.8H881.7V864.3H874.7zM867.7,864.3H888.7V871.3H867.7zM864.2,871.3H892.2V878.3H864.2zM867.7,878.3H888.7V885.3H867.7zM874.7,885.3H881.7V888.8H874.7z" fill="#0072b2"/>
<path d="M910.6,828.7H917.7V832.2H910.6zM903.6,832.2H924.7V839.2H903.6zM900.1,839.2H928.2V846.2H900.1zM903.6,846.2H924.7V853.2H903.6zM910.6,853.2H917.7V856.7H910.6z" fill="#0072b2"/>
<path d="M946.6,794.2H953.6V797.7H946.6zM939.6,797.7H960.6V804.7H939.6zM936.1,804.7H964.1V811.7H936.1zM939.6,811.7H960.6V818.7H939.6zM946.6,818.7H953.6V822.2H946.6z" fill="#0072b2"/>
<path d="M981.7,764.0H988.7V767.5H981.7zM974.7,767.5H995.8V774.5H974.7zM971.2,774.5H999.3V781.5H971.2zM974.7,781.5H995.8V788.5H974.7zM981.7,788.5H988.7V792.0H981.7z" fill="#0072b2"/>
<path d="M1016.8,727.6H1023.9V731.1H1016.8zM1009.8,731.1H1030.9V738.1H1009.8zM1006.3,738.1H1034.4V745.1H1006.3zM1009.8,745.1H1030.9V752.1H1009.8zM1016.8,752.1H1023.9V755.6H1016.8z" fill="#0072b2"/>
<path d="M1052.0,695.8H1059.0V699.3H1052.0zM1044.9,699.3H1066.0V706.3H1044.9zM1041.4,706.3H1069.5V713.3H1041.4zM1044.9,713.3H1066.0V720.3H1044.9zM1052.0,720.3H1059.0V723.8H1052.0z" fill="#0072b2"/>
<path d="M1087.1,663.3H1094.1V666.8H1087.1zM1080.1,666.8H1101.1V673.8H1080.1zM1076.6,673.8H1104.6V680.8H1076.6zM1080.1,680.8H1101.1V687.8H1080.1zM1087.1,687.8H1094.1V691.3H1087.1z" fill="#0072b2"/>
<path d="M1122.2,636.0H1129.3V639.5H1122.2zM1115.2,639.5H1136.3V646.5H1115.2zM1111.7,646.5H1139.8V653.5H1111.7zM1115.2,653.5H1136.3V660.5H1115.2zM1122.2,660.5H1129.3V664.0H1122.2z" fill="#0072b2"/>
<path d="M1157.4,604.3H1164.4V607.8H1157.4zM1150.4,607.8H1171.4V614.8H1150.4zM1146.9,614.8H1174.9V621.8H1146.9zM1150.4,621.8H1171.4V628.8H1150.4zM1157.4,628.8H1164.4V632.3H1157.4z" fill="#0072b2"/>
<path d="M1192.5,575.0H1199.6V578.5H1192.5zM1185.5,578.5H1206.6V585.5H1185.5zM1182.0,585.5H1210.1V592.5H1182.0zM1185.5,592.5H1206.6V599.5H1185.5zM1192.5,599.5H1199.6V603.0H1192.5z" fill="#0072b2"/>
<path d="M1227.7,548.3H1234.7V551.8H1227.7zM1220.7,551.8H1241.7V558.8H1220.7zM1217.2,558.8H1245.2V565.8H1217.2zM1220.7,565.8H1241.7V572.8H1220.7zM1227.7,572.8H1234.7V576.3H1227.7z" fill="#0072b2"/>
<path d="M1262.8,520.3H1269.9V523.8H1262.8zM1255.8,523.8H1276.9V530.8H1255.8zM1252.3,530.8H1280.4V537.8H1252.3zM1255.8,537.8H1276.9V544.8H1255.8zM1262.8,544.8H1269.9V548.3H1262.8z" fill="#0072b2"/>
<path d="M1298.0,492.0H1305.0V495.5H1298.0zM1291.0,495.5H1312.0V502.5H1291.0zM1287.5,502.5H1315.5V509.5H1287.5zM1291.0,509.5H1312.0V516.5H1291.0zM1298.0,516.5H1305.0V520.0H1298.0z" fill="#0072b2"/>
<path d="M1333.1,460.9H1340.2V464.4H1333.1zM1326.1,464.4H1347.2V471.4H1326.1zM1322.6,471.4H1350.7V478.4H1322.6zM1326.1,478.4H1347.2V485.4H1326.1zM1333.1,485.4H1340.2V488.9H1333.1z" fill="#0072b2"/>
<path d="M1368.3,432.4H1375.3V435.9H1368.3zM1361.3,435.9H1382.3V442.9H1361.3zM1357.8,442.9H1385.8V449.9H1357.8zM1361.3,449.9H1382.3V456.9H1361.3zM1368.3,456.9H1375.3V460.4H1368.3z" fill="#0072b2"/>
<path d="M1403.4,401.0H1410.4V404.5H1403.4zM1396.4,404.5H1417.4V411.5H1396.4zM1392.9,411.5H1420.9V418.5H1392.9zM1396.4,418.5H1417.4V425.5H1396.4zM1403.4,425.5H1410.4V429.0H1403.4z" fill="#0072b2"/>
<path d="M1438.5,376.5H1445.5V380.0H1438.5zM1431.5,380.0H1452.5V387.0H1431.5zM1428.0,387.0H1456.0V394.0H1428.0zM1431.5,394.0H1452.5V401.0H1431.5zM1438.5,401.0H1445.5V404.5H1438.5z" fill="#0072b2"/>
<path d="M1473.6,348.2H1480.6V351.7H1473.6zM1466.6,351.7H1487.6V358.7H1466.6zM1463.1,358.7H1491.1V365.7H1463.1zM1466.6,365.7H1487.6V372.7H1466.6zM1473.6,372.7H1480.6V376.2H1473.6z" fill="#0072b2"/>
<path d="M1508.7,322.8H1515.7V326.3H1508.7zM1501.7,326.3H1522.7V333.3H1501.7zM1498.2,333.3H1526.2V340.3H1498.2zM1501.7,340.3H1522.7V347.3H1501.7zM1508.7,347.3H1515.7V350.8H1508.7z" fill="#0072b2"/>
<path d="M1543.8,292.3H1550.8V295.8H1543.8zM1536.8,295.8H1557.8V302.8H1536.8zM1533.3,302.8H1561.3V309.8H1533.3zM1536.8,309.8H1557.8V316.8H1536.8zM1543.8,316.8H1550.8V320.3H1543.8z" fill="#0072b2"/>
<path d="M1578.9,263.5H1585.9V267.0H1578.9zM1571.9,267.0H1592.9V274.0H1571.9zM1568.4,274.0H1596.4V281.0H1568.4zM1571.9,281.0H1592.9V288.0H1571.9zM1578.9,288.0H1585.9V291.5H1578.9z" fill="#0072b2"/>
<path d="M1614.0,235.3H1621.0V238.8H1614.0zM1607.0,238.8H1628.0V245.8H1607.0zM1603.5,245.8H1631.5V252.8H1603.5zM1607.0,252.8H1628.0V259.8H1607.0zM1614.0,259.8H1621.0V263.3H1614.0z" fill="#0072b2"/>
</g>
<g transform="translate(1207.80,1043.80) scale(0.9550,1)"><text font-size="58.7" text-anchor="end">C100S0</text><path d="M-165.72,-5.39H-154.60V1.2H-165.72zM-150.16,-5.39H-139.36V1.2H-150.16z" fill="#fff"/></g>
<line x1="1249" y1="1025.8" x2="1411" y2="1025.8" stroke="#9400d3" stroke-width="7.0"/>
<path d="M1326.5,1011.8H1333.5V1022.3H1326.5zM1316.0,1022.3H1344.0V1029.3H1316.0zM1326.5,1029.3H1333.5V1039.8H1326.5z" fill="#9400d3"/>
<g transform="translate(1207.80,1110.30) scale(0.9550,1)"><text font-size="58.7" text-anchor="end">C80S20</text></g>
<line x1="1249" y1="1092.3" x2="1411" y2="1092.3" stroke="#009e73" stroke-width="7.0"/>
<path d="M1316.0,1078.3H1323.0V1081.8H1316.0zM1337.0,1078.3H1344.0V1081.8H1337.0zM1316.0,1081.8H1326.5V1085.3H1316.0zM1333.5,1081.8H1344.0V1085.3H1333.5zM1319.5,1085.3H1340.5V1088.8H1319.5zM1323.0,1088.8H1337.0V1095.8H1323.0zM1319.5,1095.8H1340.5V1099.3H1319.5zM1316.0,1099.3H1326.5V1102.8H1316.0zM1333.5,1099.3H1344.0V1102.8H1333.5zM1316.0,1102.8H1323.0V1106.3H1316.0zM1337.0,1102.8H1344.0V1106.3H1337.0z" fill="#009e73"/>
<g transform="translate(1207.80,1177.60) scale(0.9550,1)"><text font-size="58.7" text-anchor="end">C60S40</text></g>
<line x1="1249" y1="1159.6" x2="1411" y2="1159.6" stroke="#56b4e9" stroke-width="7.0"/>
<path d="M1316.0,1145.6H1323.0V1149.1H1316.0zM1337.0,1145.6H1344.0V1149.1H1337.0zM1326.5,1145.6H1333.5V1149.1H1326.5zM1316.0,1149.1H1344.0V1152.6H1316.0zM1319.5,1152.6H1340.5V1166.6H1319.5zM1316.0,1166.6H1344.0V1170.1H1316.0zM1316.0,1170.1H1323.0V1173.6H1316.0zM1337.0,1170.1H1344.0V1173.6H1337.0zM1326.5,1170.1H1333.5V1173.6H1326.5z" fill="#56b4e9"/>
<g transform="translate(1207.80,1243.90) scale(0.9550,1)"><text font-size="58.7" text-anchor="end">C40S20</text></g>
<line x1="1249" y1="1225.9" x2="1411" y2="1225.9" stroke="#e69f00" stroke-width="7.0"/>
<path d="M1316.0,1211.9H1344.0V1218.9H1316.0zM1316.0,1218.9H1323.0V1232.9H1316.0zM1337.0,1218.9H1344.0V1232.9H1337.0zM1316.0,1232.9H1344.0V1239.9H1316.0z" fill="#e69f00"/>
<g transform="translate(1207.80,1310.70) scale(0.9550,1)"><text font-size="58.7" text-anchor="end">C20S80</text></g>
<line x1="1249" y1="1292.7" x2="1411" y2="1292.7" stroke="#f0e442" stroke-width="7.0"/>
<path d="M1316.0,1278.7H1344.0V1306.7H1316.0z" fill="#f0e442"/>
<g transform="translate(1207.80,1377.60) scale(0.9550,1)"><text font-size="58.7" text-anchor="end">C0S100</text><path d="M-93.93,-5.39H-82.80V1.2H-93.93zM-78.36,-5.39H-67.56V1.2H-78.36z" fill="#fff"/></g>
<line x1="1249" y1="1359.6" x2="1411" y2="1359.6" stroke="#0072b2" stroke-width="7.0"/>
<path d="M1326.5,1345.6H1333.5V1349.1H1326.5zM1319.5,1349.1H1340.5V1356.1H1319.5zM1316.0,1356.1H1344.0V1363.1H1316.0zM1319.5,1363.1H1340.5V1370.1H1319.5zM1326.5,1370.1H1333.5V1373.6H1326.5z" fill="#0072b2"/>
<path d="M387,1473.7V1458.7M387,68.8V83.8M527.4,1473.7V1458.7M527.4,68.8V83.8M667.9,1473.7V1458.7M667.9,68.8V83.8M808.6,1473.7V1458.7M808.6,68.8V83.8M952.4,1473.7V1458.7M952.4,68.8V83.8M1092.9,1473.7V1458.7M1092.9,68.8V83.8M1233.5,1473.7V1458.7M1233.5,68.8V83.8M1374.1,1473.7V1458.7M1374.1,68.8V83.8M1514.5,1473.7V1458.7M1514.5,68.8V83.8M246.5,1273.6H261.5M1654.9,1273.6H1639.9M246.5,1073.1H261.5M1654.9,1073.1H1639.9M246.5,869.5H261.5M1654.9,869.5H1639.9M246.5,669.3H261.5M1654.9,669.3H1639.9M246.5,469.1H261.5M1654.9,469.1H1639.9M246.5,268.9H261.5M1654.9,268.9H1639.9" stroke="#000" stroke-width="3.6" fill="none"/>
<rect x="246.5" y="68.8" width="1408.4" height="1404.9" fill="none" stroke="#000" stroke-width="3.6"/>
<g transform="translate(246.50,1555.60) scale(0.9550,1)"><text font-size="58.7" text-anchor="middle">0</text></g>
<g transform="translate(387.00,1555.60) scale(0.9550,1)"><text font-size="58.7" text-anchor="middle">2</text></g>
<g transform="translate(527.40,1555.60) scale(0.9550,1)"><text font-size="58.7" text-anchor="middle">4</text></g>
<g transform="translate(667.90,1555.60) scale(0.9550,1)"><text font-size="58.7" text-anchor="middle">6</text></g>
<g transform="translate(808.60,1555.60) scale(0.9550,1)"><text font-size="58.7" text-anchor="middle">8</text></g>
<g transform="translate(951.40,1555.60) scale(0.9550,1)"><text font-size="58.7" text-anchor="middle">10</text><path d="M-28.63,-5.39H-17.51V1.2H-28.63zM-13.07,-5.39H-2.26V1.2H-13.07z" fill="#fff"/></g>
<g transform="translate(1091.90,1555.60) scale(0.9550,1)"><text font-size="58.7" text-anchor="middle">12</text><path d="M-28.63,-5.39H-17.51V1.2H-28.63zM-13.07,-5.39H-2.26V1.2H-13.07z" fill="#fff"/></g>
<g transform="translate(1232.50,1555.60) scale(0.9550,1)"><text font-size="58.7" text-anchor="middle">14</text><path d="M-28.63,-5.39H-17.51V1.2H-28.63zM-13.07,-5.39H-2.26V1.2H-13.07z" fill="#fff"/></g>
<g transform="translate(1373.10,1555.60) scale(0.9550,1)"><text font-size="58.7" text-anchor="middle">16</text><path d="M-28.63,-5.39H-17.51V1.2H-28.63zM-13.07,-5.39H-2.26V1.2H-13.07z" fill="#fff"/></g>
<g transform="translate(1513.50,1555.60) scale(0.9550,1)"><text font-size="58.7" text-anchor="middle">18</text><path d="M-28.63,-5.39H-17.51V1.2H-28.63zM-13.07,-5.39H-2.26V1.2H-13.07z" fill="#fff"/></g>
<g transform="translate(1653.90,1555.60) scale(0.9550,1)"><text font-size="58.7" text-anchor="middle">20</text></g>
<g transform="translate(198.50,1489.30) scale(0.9550,1)"><text font-size="58.7" text-anchor="end">0</text></g>
<g transform="translate(198.50,1289.20) scale(0.9550,1)"><text font-size="58.7" text-anchor="end">5</text></g>
<g transform="translate(198.50,1088.70) scale(0.9550,1)"><text font-size="58.7" text-anchor="end">10</text><path d="M-61.28,-5.39H-50.16V1.2H-61.28zM-45.72,-5.39H-34.91V1.2H-45.72z" fill="#fff"/></g>
<g transform="translate(198.50,885.10) scale(0.9550,1)"><text font-size="58.7" text-anchor="end">15</text><path d="M-61.28,-5.39H-50.16V1.2H-61.28zM-45.72,-5.39H-34.91V1.2H-45.72z" fill="#fff"/></g>
<g transform="translate(198.50,684.90) scale(0.9550,1)"><text font-size="58.7" text-anchor="end">20</text></g>
<g transform="translate(198.50,484.70) scale(0.9550,1)"><text font-size="58.7" text-anchor="end">25</text></g>
<g transform="translate(198.50,284.50) scale(0.9550,1)"><text font-size="58.7" text-anchor="end">30</text></g>
<g transform="translate(198.50,84.40) scale(0.9550,1)"><text font-size="58.7" text-anchor="end">35</text></g>
<g transform="translate(939.45,1654.90) scale(0.9540,1)"><text font-size="58.7" text-anchor="middle">Axial strain %</text></g>
<g transform="translate(86.50,771.50) rotate(-90) scale(0.9740,1)"><text font-size="58.7" text-anchor="middle">Rotational velocity</text></g>
</svg></body></html>
